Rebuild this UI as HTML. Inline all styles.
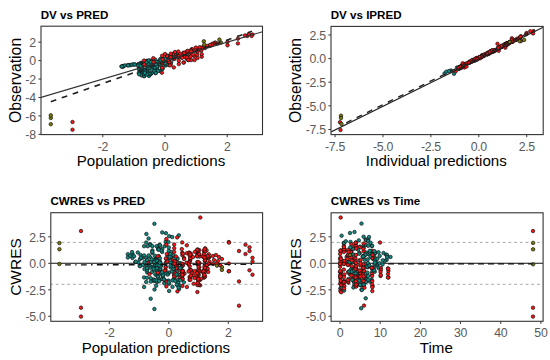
<!DOCTYPE html>
<html><head><meta charset="utf-8"><style>
html,body{margin:0;padding:0;background:#fff;}
svg{display:block;}
.tk{font-family:"Liberation Sans",sans-serif;font-size:12.3px;letter-spacing:-0.3px;fill:#5a5a5a;}
.ax{font-family:"Liberation Sans",sans-serif;font-size:15.1px;fill:#000;}
.ay{font-family:"Liberation Sans",sans-serif;font-size:15.8px;fill:#000;}
.ti{font-family:"Liberation Sans",sans-serif;font-size:11.6px;font-weight:bold;fill:#000;}
</style></head><body>
<svg width="550" height="360" viewBox="0 0 550 360">
<rect width="550" height="360" fill="#fff"/>
<defs>
<clipPath id="cA"><rect x="41" y="26.2" width="221.50" height="108.40"/></clipPath>
<clipPath id="cB"><rect x="331" y="26.4" width="212.20" height="108.20"/></clipPath>
<clipPath id="cC"><rect x="50.8" y="212.7" width="211.80" height="108.60"/></clipPath>
<clipPath id="cD"><rect x="331.1" y="212.8" width="212.00" height="108.50"/></clipPath>
</defs>
<g clip-path="url(#cA)">
<g stroke="#111" stroke-width="0.7">
<circle cx="165.9" cy="65.4" r="1.75" fill="#0f8a84"/>
<circle cx="138.0" cy="64.3" r="1.75" fill="#0f8a84"/>
<circle cx="140.9" cy="62.9" r="1.75" fill="#0f8a84"/>
<circle cx="140.3" cy="74.3" r="1.75" fill="#0f8a84"/>
<circle cx="143.7" cy="73.7" r="1.75" fill="#0f8a84"/>
<circle cx="159.5" cy="61.3" r="1.75" fill="#0f8a84"/>
<circle cx="144.1" cy="76.1" r="1.75" fill="#0f8a84"/>
<circle cx="146.5" cy="60.9" r="1.75" fill="#0f8a84"/>
<circle cx="159.8" cy="70.9" r="1.75" fill="#0f8a84"/>
<circle cx="147.8" cy="71.8" r="1.75" fill="#0f8a84"/>
<circle cx="162.1" cy="58.8" r="1.75" fill="#0f8a84"/>
<circle cx="123.0" cy="66.4" r="1.75" fill="#0f8a84"/>
<circle cx="141.4" cy="68.9" r="1.75" fill="#0f8a84"/>
<circle cx="150.2" cy="60.9" r="1.75" fill="#0f8a84"/>
<circle cx="155.5" cy="73.0" r="1.75" fill="#0f8a84"/>
<circle cx="157.5" cy="70.0" r="1.75" fill="#0f8a84"/>
<circle cx="129.5" cy="65.1" r="1.75" fill="#0f8a84"/>
<circle cx="139.7" cy="70.4" r="1.75" fill="#0f8a84"/>
<circle cx="149.4" cy="60.8" r="1.75" fill="#0f8a84"/>
<circle cx="153.7" cy="61.4" r="1.75" fill="#0f8a84"/>
<circle cx="141.5" cy="72.9" r="1.75" fill="#0f8a84"/>
<circle cx="150.6" cy="74.0" r="1.75" fill="#0f8a84"/>
<circle cx="141.6" cy="75.4" r="1.75" fill="#0f8a84"/>
<circle cx="151.7" cy="73.2" r="1.75" fill="#0f8a84"/>
<circle cx="123.3" cy="65.9" r="1.75" fill="#0f8a84"/>
<circle cx="160.3" cy="59.0" r="1.75" fill="#0f8a84"/>
<circle cx="142.8" cy="71.4" r="1.75" fill="#0f8a84"/>
<circle cx="141.6" cy="63.0" r="1.75" fill="#0f8a84"/>
<circle cx="142.9" cy="63.5" r="1.75" fill="#0f8a84"/>
<circle cx="150.0" cy="64.5" r="1.75" fill="#0f8a84"/>
<circle cx="168.8" cy="56.2" r="1.75" fill="#0f8a84"/>
<circle cx="148.9" cy="75.9" r="1.75" fill="#0f8a84"/>
<circle cx="146.2" cy="72.0" r="1.75" fill="#0f8a84"/>
<circle cx="150.2" cy="63.6" r="1.75" fill="#0f8a84"/>
<circle cx="145.4" cy="64.2" r="1.75" fill="#0f8a84"/>
<circle cx="153.1" cy="62.7" r="1.75" fill="#0f8a84"/>
<circle cx="141.0" cy="69.6" r="1.75" fill="#0f8a84"/>
<circle cx="147.3" cy="71.8" r="1.75" fill="#0f8a84"/>
<circle cx="178.2" cy="57.2" r="1.75" fill="#0f8a84"/>
<circle cx="133.2" cy="64.5" r="1.75" fill="#0f8a84"/>
<circle cx="156.9" cy="63.3" r="1.75" fill="#0f8a84"/>
<circle cx="139.2" cy="66.8" r="1.75" fill="#0f8a84"/>
<circle cx="145.8" cy="70.1" r="1.75" fill="#0f8a84"/>
<circle cx="130.3" cy="65.1" r="1.75" fill="#0f8a84"/>
<circle cx="147.7" cy="60.8" r="1.75" fill="#0f8a84"/>
<circle cx="145.1" cy="70.1" r="1.75" fill="#0f8a84"/>
<circle cx="121.5" cy="66.4" r="1.75" fill="#0f8a84"/>
<circle cx="155.4" cy="59.7" r="1.75" fill="#0f8a84"/>
<circle cx="122.8" cy="66.7" r="1.75" fill="#0f8a84"/>
<circle cx="151.0" cy="60.9" r="1.75" fill="#0f8a84"/>
<circle cx="153.3" cy="66.7" r="1.75" fill="#0f8a84"/>
<circle cx="168.7" cy="58.5" r="1.75" fill="#0f8a84"/>
<circle cx="138.6" cy="66.6" r="1.75" fill="#0f8a84"/>
<circle cx="154.7" cy="65.2" r="1.75" fill="#0f8a84"/>
<circle cx="144.1" cy="76.1" r="1.75" fill="#0f8a84"/>
<circle cx="154.0" cy="62.1" r="1.75" fill="#0f8a84"/>
<circle cx="148.1" cy="68.0" r="1.75" fill="#0f8a84"/>
<circle cx="167.7" cy="57.8" r="1.75" fill="#0f8a84"/>
<circle cx="157.6" cy="63.0" r="1.75" fill="#0f8a84"/>
<circle cx="138.8" cy="72.9" r="1.75" fill="#0f8a84"/>
<circle cx="156.4" cy="68.3" r="1.75" fill="#0f8a84"/>
<circle cx="144.0" cy="74.1" r="1.75" fill="#0f8a84"/>
<circle cx="157.5" cy="66.6" r="1.75" fill="#0f8a84"/>
<circle cx="164.0" cy="58.6" r="1.75" fill="#0f8a84"/>
<circle cx="146.7" cy="61.4" r="1.75" fill="#0f8a84"/>
<circle cx="171.1" cy="62.4" r="1.75" fill="#0f8a84"/>
<circle cx="148.6" cy="64.2" r="1.75" fill="#0f8a84"/>
<circle cx="156.5" cy="68.6" r="1.75" fill="#0f8a84"/>
<circle cx="173.7" cy="59.1" r="1.75" fill="#0f8a84"/>
<circle cx="143.6" cy="69.7" r="1.75" fill="#0f8a84"/>
<circle cx="147.3" cy="61.3" r="1.75" fill="#0f8a84"/>
<circle cx="172.0" cy="56.4" r="1.75" fill="#0f8a84"/>
<circle cx="152.9" cy="69.3" r="1.75" fill="#0f8a84"/>
<circle cx="173.6" cy="53.7" r="1.75" fill="#0f8a84"/>
<circle cx="176.2" cy="54.8" r="1.75" fill="#0f8a84"/>
<circle cx="145.5" cy="65.6" r="1.75" fill="#0f8a84"/>
<circle cx="139.7" cy="68.6" r="1.75" fill="#0f8a84"/>
<circle cx="143.0" cy="64.2" r="1.75" fill="#0f8a84"/>
<circle cx="165.6" cy="58.8" r="1.75" fill="#0f8a84"/>
<circle cx="141.7" cy="67.3" r="1.75" fill="#0f8a84"/>
<circle cx="158.0" cy="61.9" r="1.75" fill="#0f8a84"/>
<circle cx="139.9" cy="64.3" r="1.75" fill="#0f8a84"/>
<circle cx="132.2" cy="64.6" r="1.75" fill="#0f8a84"/>
<circle cx="139.1" cy="63.9" r="1.75" fill="#0f8a84"/>
<circle cx="160.8" cy="60.6" r="1.75" fill="#0f8a84"/>
<circle cx="162.8" cy="68.1" r="1.75" fill="#0f8a84"/>
<circle cx="150.2" cy="74.4" r="1.75" fill="#0f8a84"/>
<circle cx="173.2" cy="55.4" r="1.75" fill="#0f8a84"/>
<circle cx="162.2" cy="69.2" r="1.75" fill="#0f8a84"/>
<circle cx="150.1" cy="73.9" r="1.75" fill="#0f8a84"/>
<circle cx="148.1" cy="68.5" r="1.75" fill="#0f8a84"/>
<circle cx="167.3" cy="55.8" r="1.75" fill="#0f8a84"/>
<circle cx="146.2" cy="62.2" r="1.75" fill="#0f8a84"/>
<circle cx="166.2" cy="58.7" r="1.75" fill="#0f8a84"/>
<circle cx="125.2" cy="65.4" r="1.75" fill="#0f8a84"/>
<circle cx="142.2" cy="63.8" r="1.75" fill="#0f8a84"/>
<circle cx="152.4" cy="67.8" r="1.75" fill="#0f8a84"/>
<circle cx="139.1" cy="69.3" r="1.75" fill="#0f8a84"/>
<circle cx="154.7" cy="67.8" r="1.75" fill="#0f8a84"/>
<circle cx="175.2" cy="54.1" r="1.75" fill="#0f8a84"/>
<circle cx="167.1" cy="62.8" r="1.75" fill="#0f8a84"/>
<circle cx="148.4" cy="73.8" r="1.75" fill="#0f8a84"/>
<circle cx="143.4" cy="63.6" r="1.75" fill="#0f8a84"/>
<circle cx="149.7" cy="67.9" r="1.75" fill="#0f8a84"/>
<circle cx="141.3" cy="69.8" r="1.75" fill="#0f8a84"/>
<circle cx="169.3" cy="63.8" r="1.75" fill="#0f8a84"/>
<circle cx="139.2" cy="65.8" r="1.75" fill="#0f8a84"/>
<circle cx="121.8" cy="66.5" r="1.75" fill="#0f8a84"/>
<circle cx="156.5" cy="65.1" r="1.75" fill="#0f8a84"/>
<circle cx="166.1" cy="61.8" r="1.75" fill="#0f8a84"/>
<circle cx="141.6" cy="65.0" r="1.75" fill="#0f8a84"/>
<circle cx="141.2" cy="66.9" r="1.75" fill="#0f8a84"/>
<circle cx="168.2" cy="63.3" r="1.75" fill="#0f8a84"/>
<circle cx="151.7" cy="70.0" r="1.75" fill="#0f8a84"/>
<circle cx="167.9" cy="59.0" r="1.75" fill="#0f8a84"/>
<circle cx="146.6" cy="71.7" r="1.75" fill="#0f8a84"/>
<circle cx="134.7" cy="64.4" r="1.75" fill="#0f8a84"/>
<circle cx="165.0" cy="63.8" r="1.75" fill="#0f8a84"/>
<circle cx="154.4" cy="71.0" r="1.75" fill="#0f8a84"/>
<circle cx="158.1" cy="70.8" r="1.75" fill="#0f8a84"/>
<circle cx="127.8" cy="65.2" r="1.75" fill="#0f8a84"/>
<circle cx="156.4" cy="62.0" r="1.75" fill="#0f8a84"/>
<circle cx="155.1" cy="67.5" r="1.75" fill="#0f8a84"/>
<circle cx="138.3" cy="65.5" r="1.75" fill="#0f8a84"/>
<circle cx="139.1" cy="74.2" r="1.75" fill="#0f8a84"/>
<circle cx="141.0" cy="65.5" r="1.75" fill="#0f8a84"/>
<circle cx="134.6" cy="64.5" r="1.75" fill="#0f8a84"/>
<circle cx="151.3" cy="63.7" r="1.75" fill="#0f8a84"/>
<circle cx="148.9" cy="60.6" r="1.75" fill="#0f8a84"/>
<circle cx="141.8" cy="69.2" r="1.75" fill="#0f8a84"/>
<circle cx="146.8" cy="74.5" r="1.75" fill="#0f8a84"/>
<circle cx="168.3" cy="64.8" r="1.75" fill="#0f8a84"/>
<circle cx="141.2" cy="66.5" r="1.75" fill="#0f8a84"/>
<circle cx="161.2" cy="65.8" r="1.75" fill="#0f8a84"/>
<circle cx="155.8" cy="73.0" r="1.75" fill="#0f8a84"/>
<circle cx="161.5" cy="64.6" r="1.75" fill="#0f8a84"/>
<circle cx="167.5" cy="58.1" r="1.75" fill="#0f8a84"/>
<circle cx="157.0" cy="66.4" r="1.75" fill="#0f8a84"/>
<circle cx="155.9" cy="64.3" r="1.75" fill="#0f8a84"/>
<circle cx="128.1" cy="65.4" r="1.75" fill="#0f8a84"/>
<circle cx="150.8" cy="62.1" r="1.75" fill="#0f8a84"/>
<circle cx="140.6" cy="66.0" r="1.75" fill="#0f8a84"/>
<circle cx="165.4" cy="58.8" r="1.75" fill="#0f8a84"/>
<circle cx="145.0" cy="71.6" r="1.75" fill="#0f8a84"/>
<circle cx="165.4" cy="63.2" r="1.75" fill="#0f8a84"/>
<circle cx="144.9" cy="72.9" r="1.75" fill="#0f8a84"/>
<circle cx="168.8" cy="60.7" r="1.75" fill="#0f8a84"/>
<circle cx="143.7" cy="64.9" r="1.75" fill="#0f8a84"/>
<circle cx="192.0" cy="49.0" r="1.75" fill="#ff1414"/>
<circle cx="180.0" cy="54.0" r="1.75" fill="#ff1414"/>
<circle cx="227.5" cy="42.0" r="1.75" fill="#ff1414"/>
<circle cx="215.2" cy="42.5" r="1.75" fill="#ff1414"/>
<circle cx="184.4" cy="53.4" r="1.75" fill="#ff1414"/>
<circle cx="201.4" cy="49.6" r="1.75" fill="#ff1414"/>
<circle cx="213.8" cy="43.4" r="1.75" fill="#ff1414"/>
<circle cx="183.3" cy="52.8" r="1.75" fill="#ff1414"/>
<circle cx="177.9" cy="56.2" r="1.75" fill="#ff1414"/>
<circle cx="187.5" cy="51.2" r="1.75" fill="#ff1414"/>
<circle cx="162.1" cy="55.8" r="1.75" fill="#ff1414"/>
<circle cx="189.6" cy="53.7" r="1.75" fill="#ff1414"/>
<circle cx="72.5" cy="122.0" r="1.75" fill="#ff1414"/>
<circle cx="205.0" cy="48.0" r="1.75" fill="#ff1414"/>
<circle cx="202.9" cy="47.2" r="1.75" fill="#ff1414"/>
<circle cx="201.1" cy="49.3" r="1.75" fill="#ff1414"/>
<circle cx="178.8" cy="64.1" r="1.75" fill="#ff1414"/>
<circle cx="212.4" cy="43.9" r="1.75" fill="#ff1414"/>
<circle cx="197.5" cy="58.0" r="1.75" fill="#ff1414"/>
<circle cx="185.0" cy="54.0" r="1.75" fill="#ff1414"/>
<circle cx="237.9" cy="38.7" r="1.75" fill="#ff1414"/>
<circle cx="153.3" cy="58.2" r="1.75" fill="#ff1414"/>
<circle cx="201.6" cy="47.9" r="1.75" fill="#ff1414"/>
<circle cx="161.9" cy="72.7" r="1.75" fill="#ff1414"/>
<circle cx="184.7" cy="54.5" r="1.75" fill="#ff1414"/>
<circle cx="198.1" cy="48.7" r="1.75" fill="#ff1414"/>
<circle cx="144.3" cy="64.4" r="1.75" fill="#ff1414"/>
<circle cx="188.3" cy="60.1" r="1.75" fill="#ff1414"/>
<circle cx="191.0" cy="50.1" r="1.75" fill="#ff1414"/>
<circle cx="211.7" cy="44.7" r="1.75" fill="#ff1414"/>
<circle cx="194.6" cy="60.1" r="1.75" fill="#ff1414"/>
<circle cx="194.2" cy="55.9" r="1.75" fill="#ff1414"/>
<circle cx="168.5" cy="62.3" r="1.75" fill="#ff1414"/>
<circle cx="182.1" cy="57.4" r="1.75" fill="#ff1414"/>
<circle cx="173.3" cy="54.1" r="1.75" fill="#ff1414"/>
<circle cx="185.0" cy="57.2" r="1.75" fill="#ff1414"/>
<circle cx="162.5" cy="59.5" r="1.75" fill="#ff1414"/>
<circle cx="153.5" cy="62.0" r="1.75" fill="#ff1414"/>
<circle cx="170.8" cy="64.5" r="1.75" fill="#ff1414"/>
<circle cx="191.0" cy="51.6" r="1.75" fill="#ff1414"/>
<circle cx="187.5" cy="56.8" r="1.75" fill="#ff1414"/>
<circle cx="191.2" cy="60.1" r="1.75" fill="#ff1414"/>
<circle cx="185.9" cy="52.2" r="1.75" fill="#ff1414"/>
<circle cx="252.5" cy="34.5" r="1.75" fill="#ff1414"/>
<circle cx="178.8" cy="60.8" r="1.75" fill="#ff1414"/>
<circle cx="201.7" cy="56.8" r="1.75" fill="#ff1414"/>
<circle cx="183.8" cy="62.4" r="1.75" fill="#ff1414"/>
<circle cx="247.3" cy="35.9" r="1.75" fill="#ff1414"/>
<circle cx="178.8" cy="56.2" r="1.75" fill="#ff1414"/>
<circle cx="184.3" cy="52.9" r="1.75" fill="#ff1414"/>
<circle cx="191.2" cy="51.3" r="1.75" fill="#ff1414"/>
<circle cx="162.1" cy="63.2" r="1.75" fill="#ff1414"/>
<circle cx="210.0" cy="45.9" r="1.75" fill="#ff1414"/>
<circle cx="200.0" cy="49.6" r="1.75" fill="#ff1414"/>
<circle cx="251.6" cy="35.9" r="1.75" fill="#ff1414"/>
<circle cx="197.1" cy="54.7" r="1.75" fill="#ff1414"/>
<circle cx="187.5" cy="50.9" r="1.75" fill="#ff1414"/>
<circle cx="201.2" cy="50.5" r="1.75" fill="#ff1414"/>
<circle cx="193.3" cy="54.7" r="1.75" fill="#ff1414"/>
<circle cx="173.8" cy="67.4" r="1.75" fill="#ff1414"/>
<circle cx="144.0" cy="60.6" r="1.75" fill="#ff1414"/>
<circle cx="170.8" cy="57.4" r="1.75" fill="#ff1414"/>
<circle cx="170.8" cy="53.7" r="1.75" fill="#ff1414"/>
<circle cx="187.1" cy="59.2" r="1.75" fill="#ff1414"/>
<circle cx="175.0" cy="52.0" r="1.75" fill="#ff1414"/>
<circle cx="245.0" cy="35.4" r="1.75" fill="#ff1414"/>
<circle cx="174.6" cy="58.7" r="1.75" fill="#ff1414"/>
<circle cx="199.6" cy="47.2" r="1.75" fill="#ff1414"/>
<circle cx="237.9" cy="43.4" r="1.75" fill="#ff1414"/>
<circle cx="72.5" cy="129.7" r="1.75" fill="#ff1414"/>
<circle cx="190.4" cy="56.8" r="1.75" fill="#ff1414"/>
<circle cx="169.9" cy="65.4" r="1.75" fill="#ff1414"/>
<circle cx="169.2" cy="62.0" r="1.75" fill="#ff1414"/>
<circle cx="195.8" cy="47.6" r="1.75" fill="#ff1414"/>
<circle cx="201.7" cy="54.2" r="1.75" fill="#ff1414"/>
<circle cx="227.5" cy="45.3" r="1.75" fill="#ff1414"/>
<circle cx="162.1" cy="67.8" r="1.75" fill="#ff1414"/>
<circle cx="248.8" cy="34.0" r="1.75" fill="#ff1414"/>
<circle cx="210.0" cy="44.9" r="1.75" fill="#ff1414"/>
<circle cx="168.3" cy="59.9" r="1.75" fill="#ff1414"/>
<circle cx="183.5" cy="62.6" r="1.75" fill="#ff1414"/>
<circle cx="217.6" cy="43.4" r="1.75" fill="#ff1414"/>
<circle cx="167.0" cy="56.0" r="1.75" fill="#ff1414"/>
<circle cx="197.0" cy="51.1" r="1.75" fill="#ff1414"/>
<circle cx="207.1" cy="45.9" r="1.75" fill="#ff1414"/>
<circle cx="197.5" cy="51.8" r="1.75" fill="#ff1414"/>
<circle cx="178.3" cy="51.6" r="1.75" fill="#ff1414"/>
<circle cx="165.0" cy="54.0" r="1.75" fill="#ff1414"/>
<circle cx="187.1" cy="57.4" r="1.75" fill="#ff1414"/>
<circle cx="195.4" cy="50.6" r="1.75" fill="#ff1414"/>
<circle cx="188.3" cy="59.9" r="1.75" fill="#ff1414"/>
<circle cx="182.1" cy="57.8" r="1.75" fill="#ff1414"/>
<circle cx="220.9" cy="42.5" r="1.75" fill="#7a7c08"/>
<circle cx="203.8" cy="41.3" r="1.75" fill="#7a7c08"/>
<circle cx="219.4" cy="39.6" r="1.75" fill="#7a7c08"/>
<circle cx="50.8" cy="118.0" r="1.75" fill="#7a7c08"/>
<circle cx="50.8" cy="124.2" r="1.75" fill="#7a7c08"/>
<circle cx="204.2" cy="44.7" r="1.75" fill="#7a7c08"/>
<circle cx="50.8" cy="115.3" r="1.75" fill="#7a7c08"/>
</g>
<line x1="41" y1="97.39" x2="262.5" y2="31.74" stroke="#333" stroke-width="1.1"/>
<line x1="50.8" y1="101.7" x2="252" y2="31.3" stroke="#222" stroke-width="1.6" stroke-dasharray="5.8 5.8"/>
</g>
<g clip-path="url(#cB)">
<g stroke="#111" stroke-width="0.7">
<circle cx="444.6" cy="73.4" r="1.75" fill="#0f8a84"/>
<circle cx="481.9" cy="55.3" r="1.75" fill="#0f8a84"/>
<circle cx="446.3" cy="71.7" r="1.75" fill="#0f8a84"/>
<circle cx="462.5" cy="65.8" r="1.75" fill="#0f8a84"/>
<circle cx="474.8" cy="60.7" r="1.75" fill="#0f8a84"/>
<circle cx="466.9" cy="63.5" r="1.75" fill="#0f8a84"/>
<circle cx="451.0" cy="70.5" r="1.75" fill="#0f8a84"/>
<circle cx="505.3" cy="44.3" r="1.75" fill="#0f8a84"/>
<circle cx="471.1" cy="61.5" r="1.75" fill="#0f8a84"/>
<circle cx="471.3" cy="61.5" r="1.75" fill="#0f8a84"/>
<circle cx="504.9" cy="44.3" r="1.75" fill="#0f8a84"/>
<circle cx="460.4" cy="67.0" r="1.75" fill="#0f8a84"/>
<circle cx="468.8" cy="62.5" r="1.75" fill="#0f8a84"/>
<circle cx="472.5" cy="60.4" r="1.75" fill="#0f8a84"/>
<circle cx="460.2" cy="67.1" r="1.75" fill="#0f8a84"/>
<circle cx="459.0" cy="69.0" r="1.75" fill="#0f8a84"/>
<circle cx="498.6" cy="47.9" r="1.75" fill="#0f8a84"/>
<circle cx="474.7" cy="60.1" r="1.75" fill="#0f8a84"/>
<circle cx="490.2" cy="51.5" r="1.75" fill="#0f8a84"/>
<circle cx="462.1" cy="66.3" r="1.75" fill="#0f8a84"/>
<circle cx="487.0" cy="53.5" r="1.75" fill="#0f8a84"/>
<circle cx="459.6" cy="67.4" r="1.75" fill="#0f8a84"/>
<circle cx="449.0" cy="71.0" r="1.75" fill="#0f8a84"/>
<circle cx="495.6" cy="50.0" r="1.75" fill="#0f8a84"/>
<circle cx="506.7" cy="43.5" r="1.75" fill="#0f8a84"/>
<circle cx="460.5" cy="67.0" r="1.75" fill="#0f8a84"/>
<circle cx="457.0" cy="67.5" r="1.75" fill="#0f8a84"/>
<circle cx="511.3" cy="41.6" r="1.75" fill="#0f8a84"/>
<circle cx="463.9" cy="65.1" r="1.75" fill="#0f8a84"/>
<circle cx="454.0" cy="73.8" r="1.75" fill="#0f8a84"/>
<circle cx="463.8" cy="64.8" r="1.75" fill="#0f8a84"/>
<circle cx="498.1" cy="48.8" r="1.75" fill="#0f8a84"/>
<circle cx="461.0" cy="68.0" r="1.75" fill="#0f8a84"/>
<circle cx="462.4" cy="65.5" r="1.75" fill="#0f8a84"/>
<circle cx="466.6" cy="64.0" r="1.75" fill="#0f8a84"/>
<circle cx="472.2" cy="61.2" r="1.75" fill="#0f8a84"/>
<circle cx="488.5" cy="52.3" r="1.75" fill="#0f8a84"/>
<circle cx="471.4" cy="61.6" r="1.75" fill="#0f8a84"/>
<circle cx="464.1" cy="65.6" r="1.75" fill="#0f8a84"/>
<circle cx="487.5" cy="53.4" r="1.75" fill="#ff1414"/>
<circle cx="489.4" cy="52.5" r="1.75" fill="#ff1414"/>
<circle cx="482.9" cy="55.2" r="1.75" fill="#ff1414"/>
<circle cx="504.7" cy="44.6" r="1.75" fill="#ff1414"/>
<circle cx="472.4" cy="60.1" r="1.75" fill="#ff1414"/>
<circle cx="477.0" cy="59.2" r="1.75" fill="#ff1414"/>
<circle cx="509.0" cy="42.6" r="1.75" fill="#ff1414"/>
<circle cx="500.7" cy="46.5" r="1.75" fill="#ff1414"/>
<circle cx="469.9" cy="62.3" r="1.75" fill="#ff1414"/>
<circle cx="469.5" cy="62.7" r="1.75" fill="#ff1414"/>
<circle cx="505.2" cy="44.8" r="1.75" fill="#ff1414"/>
<circle cx="484.0" cy="56.0" r="1.75" fill="#ff1414"/>
<circle cx="492.0" cy="51.1" r="1.75" fill="#ff1414"/>
<circle cx="459.9" cy="67.3" r="1.75" fill="#ff1414"/>
<circle cx="506.8" cy="43.1" r="1.75" fill="#ff1414"/>
<circle cx="463.9" cy="64.6" r="1.75" fill="#ff1414"/>
<circle cx="469.3" cy="61.7" r="1.75" fill="#ff1414"/>
<circle cx="498.7" cy="50.8" r="1.75" fill="#ff1414"/>
<circle cx="493.0" cy="51.8" r="1.75" fill="#ff1414"/>
<circle cx="519.4" cy="37.9" r="1.75" fill="#ff1414"/>
<circle cx="482.4" cy="56.0" r="1.75" fill="#ff1414"/>
<circle cx="488.8" cy="52.6" r="1.75" fill="#ff1414"/>
<circle cx="479.3" cy="57.7" r="1.75" fill="#ff1414"/>
<circle cx="509.0" cy="43.0" r="1.75" fill="#ff1414"/>
<circle cx="520.9" cy="41.1" r="1.75" fill="#ff1414"/>
<circle cx="487.9" cy="53.9" r="1.75" fill="#ff1414"/>
<circle cx="475.6" cy="58.7" r="1.75" fill="#ff1414"/>
<circle cx="481.1" cy="56.5" r="1.75" fill="#ff1414"/>
<circle cx="516.6" cy="39.4" r="1.75" fill="#ff1414"/>
<circle cx="505.0" cy="45.1" r="1.75" fill="#ff1414"/>
<circle cx="464.2" cy="64.6" r="1.75" fill="#ff1414"/>
<circle cx="476.0" cy="59.6" r="1.75" fill="#ff1414"/>
<circle cx="482.2" cy="56.0" r="1.75" fill="#ff1414"/>
<circle cx="459.8" cy="66.9" r="1.75" fill="#ff1414"/>
<circle cx="504.6" cy="44.9" r="1.75" fill="#ff1414"/>
<circle cx="501.5" cy="46.7" r="1.75" fill="#ff1414"/>
<circle cx="490.5" cy="52.8" r="1.75" fill="#ff1414"/>
<circle cx="509.2" cy="42.7" r="1.75" fill="#ff1414"/>
<circle cx="508.4" cy="43.1" r="1.75" fill="#ff1414"/>
<circle cx="462.3" cy="66.4" r="1.75" fill="#ff1414"/>
<circle cx="486.3" cy="53.9" r="1.75" fill="#ff1414"/>
<circle cx="507.6" cy="43.2" r="1.75" fill="#ff1414"/>
<circle cx="494.8" cy="51.0" r="1.75" fill="#ff1414"/>
<circle cx="489.3" cy="53.4" r="1.75" fill="#ff1414"/>
<circle cx="506.0" cy="43.8" r="1.75" fill="#ff1414"/>
<circle cx="507.8" cy="43.9" r="1.75" fill="#ff1414"/>
<circle cx="526.6" cy="33.0" r="1.75" fill="#ff1414"/>
<circle cx="491.9" cy="51.1" r="1.75" fill="#ff1414"/>
<circle cx="491.6" cy="51.6" r="1.75" fill="#ff1414"/>
<circle cx="499.1" cy="47.9" r="1.75" fill="#ff1414"/>
<circle cx="511.9" cy="41.9" r="1.75" fill="#ff1414"/>
<circle cx="477.5" cy="59.2" r="1.75" fill="#ff1414"/>
<circle cx="498.3" cy="47.9" r="1.75" fill="#ff1414"/>
<circle cx="465.3" cy="64.5" r="1.75" fill="#ff1414"/>
<circle cx="489.7" cy="52.5" r="1.75" fill="#ff1414"/>
<circle cx="504.7" cy="45.1" r="1.75" fill="#ff1414"/>
<circle cx="487.1" cy="54.6" r="1.75" fill="#ff1414"/>
<circle cx="506.9" cy="44.0" r="1.75" fill="#ff1414"/>
<circle cx="507.5" cy="44.4" r="1.75" fill="#ff1414"/>
<circle cx="487.3" cy="54.2" r="1.75" fill="#ff1414"/>
<circle cx="533.1" cy="31.3" r="1.75" fill="#ff1414"/>
<circle cx="464.4" cy="67.5" r="1.75" fill="#ff1414"/>
<circle cx="501.6" cy="46.6" r="1.75" fill="#ff1414"/>
<circle cx="516.0" cy="39.9" r="1.75" fill="#ff1414"/>
<circle cx="462.0" cy="66.0" r="1.75" fill="#ff1414"/>
<circle cx="464.3" cy="65.0" r="1.75" fill="#ff1414"/>
<circle cx="520.5" cy="36.9" r="1.75" fill="#ff1414"/>
<circle cx="530.3" cy="31.3" r="1.75" fill="#ff1414"/>
<circle cx="473.6" cy="60.6" r="1.75" fill="#ff1414"/>
<circle cx="515.1" cy="40.2" r="1.75" fill="#ff1414"/>
<circle cx="460.4" cy="66.8" r="1.75" fill="#ff1414"/>
<circle cx="485.2" cy="54.0" r="1.75" fill="#ff1414"/>
<circle cx="490.8" cy="51.9" r="1.75" fill="#ff1414"/>
<circle cx="340.0" cy="122.2" r="1.75" fill="#ff1414"/>
<circle cx="498.1" cy="47.7" r="1.75" fill="#ff1414"/>
<circle cx="458.7" cy="67.7" r="1.75" fill="#ff1414"/>
<circle cx="490.5" cy="52.1" r="1.75" fill="#ff1414"/>
<circle cx="504.1" cy="44.7" r="1.75" fill="#ff1414"/>
<circle cx="511.9" cy="38.3" r="1.75" fill="#ff1414"/>
<circle cx="472.7" cy="60.8" r="1.75" fill="#ff1414"/>
<circle cx="506.9" cy="44.5" r="1.75" fill="#ff1414"/>
<circle cx="476.8" cy="58.2" r="1.75" fill="#ff1414"/>
<circle cx="487.8" cy="53.9" r="1.75" fill="#ff1414"/>
<circle cx="511.8" cy="41.7" r="1.75" fill="#ff1414"/>
<circle cx="490.9" cy="51.4" r="1.75" fill="#ff1414"/>
<circle cx="470.4" cy="61.5" r="1.75" fill="#ff1414"/>
<circle cx="472.2" cy="61.4" r="1.75" fill="#ff1414"/>
<circle cx="492.2" cy="51.0" r="1.75" fill="#ff1414"/>
<circle cx="464.6" cy="65.0" r="1.75" fill="#ff1414"/>
<circle cx="491.8" cy="50.9" r="1.75" fill="#ff1414"/>
<circle cx="465.2" cy="63.9" r="1.75" fill="#ff1414"/>
<circle cx="459.2" cy="67.9" r="1.75" fill="#ff1414"/>
<circle cx="512.4" cy="41.6" r="1.75" fill="#ff1414"/>
<circle cx="505.4" cy="44.6" r="1.75" fill="#ff1414"/>
<circle cx="482.2" cy="56.0" r="1.75" fill="#ff1414"/>
<circle cx="493.8" cy="51.0" r="1.75" fill="#ff1414"/>
<circle cx="501.2" cy="47.2" r="1.75" fill="#ff1414"/>
<circle cx="489.5" cy="52.9" r="1.75" fill="#ff1414"/>
<circle cx="510.7" cy="41.6" r="1.75" fill="#ff1414"/>
<circle cx="520.0" cy="37.4" r="1.75" fill="#ff1414"/>
<circle cx="489.9" cy="51.9" r="1.75" fill="#ff1414"/>
<circle cx="488.7" cy="53.5" r="1.75" fill="#ff1414"/>
<circle cx="482.5" cy="55.5" r="1.75" fill="#ff1414"/>
<circle cx="508.8" cy="42.7" r="1.75" fill="#ff1414"/>
<circle cx="511.9" cy="39.9" r="1.75" fill="#ff1414"/>
<circle cx="479.1" cy="57.6" r="1.75" fill="#ff1414"/>
<circle cx="481.5" cy="57.3" r="1.75" fill="#ff1414"/>
<circle cx="480.0" cy="58.3" r="1.75" fill="#ff1414"/>
<circle cx="494.2" cy="50.2" r="1.75" fill="#ff1414"/>
<circle cx="501.8" cy="46.4" r="1.75" fill="#ff1414"/>
<circle cx="492.6" cy="51.5" r="1.75" fill="#ff1414"/>
<circle cx="491.5" cy="51.5" r="1.75" fill="#ff1414"/>
<circle cx="459.0" cy="67.8" r="1.75" fill="#ff1414"/>
<circle cx="491.7" cy="50.7" r="1.75" fill="#ff1414"/>
<circle cx="464.7" cy="65.1" r="1.75" fill="#ff1414"/>
<circle cx="520.9" cy="36.2" r="1.75" fill="#ff1414"/>
<circle cx="497.5" cy="43.8" r="1.75" fill="#ff1414"/>
<circle cx="461.7" cy="67.2" r="1.75" fill="#ff1414"/>
<circle cx="474.5" cy="60.1" r="1.75" fill="#ff1414"/>
<circle cx="517.2" cy="38.7" r="1.75" fill="#ff1414"/>
<circle cx="500.5" cy="47.3" r="1.75" fill="#ff1414"/>
<circle cx="487.8" cy="53.5" r="1.75" fill="#ff1414"/>
<circle cx="477.4" cy="58.4" r="1.75" fill="#ff1414"/>
<circle cx="479.0" cy="57.4" r="1.75" fill="#ff1414"/>
<circle cx="512.8" cy="41.7" r="1.75" fill="#ff1414"/>
<circle cx="468.9" cy="62.8" r="1.75" fill="#ff1414"/>
<circle cx="476.9" cy="58.6" r="1.75" fill="#ff1414"/>
<circle cx="466.6" cy="63.7" r="1.75" fill="#ff1414"/>
<circle cx="483.5" cy="55.3" r="1.75" fill="#ff1414"/>
<circle cx="461.3" cy="65.9" r="1.75" fill="#ff1414"/>
<circle cx="490.1" cy="51.8" r="1.75" fill="#ff1414"/>
<circle cx="464.8" cy="64.8" r="1.75" fill="#ff1414"/>
<circle cx="505.7" cy="45.6" r="1.75" fill="#ff1414"/>
<circle cx="481.6" cy="56.4" r="1.75" fill="#ff1414"/>
<circle cx="498.7" cy="48.6" r="1.75" fill="#ff1414"/>
<circle cx="488.7" cy="53.0" r="1.75" fill="#ff1414"/>
<circle cx="492.4" cy="50.7" r="1.75" fill="#ff1414"/>
<circle cx="501.1" cy="46.3" r="1.75" fill="#ff1414"/>
<circle cx="455.7" cy="71.3" r="1.75" fill="#ff1414"/>
<circle cx="483.8" cy="55.4" r="1.75" fill="#ff1414"/>
<circle cx="483.9" cy="54.8" r="1.75" fill="#ff1414"/>
<circle cx="481.6" cy="56.8" r="1.75" fill="#ff1414"/>
<circle cx="462.7" cy="63.3" r="1.75" fill="#ff1414"/>
<circle cx="479.4" cy="57.2" r="1.75" fill="#ff1414"/>
<circle cx="507.4" cy="44.4" r="1.75" fill="#ff1414"/>
<circle cx="501.2" cy="46.3" r="1.75" fill="#ff1414"/>
<circle cx="505.3" cy="47.7" r="1.75" fill="#ff1414"/>
<circle cx="458.4" cy="68.4" r="1.75" fill="#ff1414"/>
<circle cx="469.0" cy="62.8" r="1.75" fill="#ff1414"/>
<circle cx="463.3" cy="65.8" r="1.75" fill="#ff1414"/>
<circle cx="509.7" cy="43.0" r="1.75" fill="#ff1414"/>
<circle cx="463.1" cy="65.6" r="1.75" fill="#ff1414"/>
<circle cx="500.4" cy="46.9" r="1.75" fill="#ff1414"/>
<circle cx="476.9" cy="58.0" r="1.75" fill="#ff1414"/>
<circle cx="494.2" cy="50.6" r="1.75" fill="#ff1414"/>
<circle cx="472.5" cy="60.5" r="1.75" fill="#ff1414"/>
<circle cx="505.2" cy="45.3" r="1.75" fill="#ff1414"/>
<circle cx="503.7" cy="45.4" r="1.75" fill="#ff1414"/>
<circle cx="520.4" cy="36.9" r="1.75" fill="#ff1414"/>
<circle cx="459.3" cy="67.6" r="1.75" fill="#ff1414"/>
<circle cx="458.6" cy="67.8" r="1.75" fill="#ff1414"/>
<circle cx="466.5" cy="66.5" r="1.75" fill="#ff1414"/>
<circle cx="476.7" cy="58.3" r="1.75" fill="#ff1414"/>
<circle cx="526.2" cy="34.2" r="1.75" fill="#ff1414"/>
<circle cx="477.7" cy="59.0" r="1.75" fill="#ff1414"/>
<circle cx="533.1" cy="33.4" r="1.75" fill="#ff1414"/>
<circle cx="474.7" cy="59.1" r="1.75" fill="#ff1414"/>
<circle cx="460.8" cy="66.8" r="1.75" fill="#ff1414"/>
<circle cx="501.8" cy="45.7" r="1.75" fill="#ff1414"/>
<circle cx="489.7" cy="52.0" r="1.75" fill="#ff1414"/>
<circle cx="509.2" cy="42.5" r="1.75" fill="#ff1414"/>
<circle cx="340.5" cy="130.0" r="1.75" fill="#ff1414"/>
<circle cx="492.3" cy="50.4" r="1.75" fill="#ff1414"/>
<circle cx="506.5" cy="44.2" r="1.75" fill="#ff1414"/>
<circle cx="477.1" cy="59.3" r="1.75" fill="#ff1414"/>
<circle cx="487.2" cy="53.8" r="1.75" fill="#ff1414"/>
<circle cx="471.7" cy="60.5" r="1.75" fill="#ff1414"/>
<circle cx="498.4" cy="48.1" r="1.75" fill="#ff1414"/>
<circle cx="341.5" cy="124.0" r="1.75" fill="#7a7c08"/>
<circle cx="341.0" cy="115.7" r="1.75" fill="#7a7c08"/>
<circle cx="519.6" cy="41.1" r="1.75" fill="#7a7c08"/>
<circle cx="341.0" cy="118.0" r="1.75" fill="#7a7c08"/>
<circle cx="509.8" cy="42.0" r="1.75" fill="#7a7c08"/>
<circle cx="524.1" cy="39.9" r="1.75" fill="#7a7c08"/>
</g>
<line x1="331" y1="131.86" x2="543.2" y2="27.25" stroke="#222" stroke-width="1.2"/>
<line x1="341" y1="125.33" x2="535" y2="29.70" stroke="#222" stroke-width="1.4" stroke-dasharray="5.8 5.8" stroke-dashoffset="5.8"/>
</g>
<g clip-path="url(#cC)">
<line x1="50.8" y1="242.40" x2="262.6" y2="242.40" stroke="#a8a8a8" stroke-width="1" stroke-dasharray="2.86 2.86" stroke-dashoffset="0.78"/>
<line x1="50.8" y1="284.30" x2="262.6" y2="284.30" stroke="#a8a8a8" stroke-width="1" stroke-dasharray="2.86 2.86" stroke-dashoffset="0.78"/>
<line x1="50.8" y1="263.3" x2="262.6" y2="263.3" stroke="#111" stroke-width="1.1"/>
<g stroke="#111" stroke-width="0.7">
<circle cx="157.0" cy="282.0" r="1.75" fill="#0f8a84"/>
<circle cx="179.8" cy="277.7" r="1.75" fill="#ff1414"/>
<circle cx="159.9" cy="245.4" r="1.75" fill="#0f8a84"/>
<circle cx="228.8" cy="242.1" r="1.75" fill="#ff1414"/>
<circle cx="169.1" cy="290.9" r="1.75" fill="#0f8a84"/>
<circle cx="178.6" cy="284.4" r="1.75" fill="#0f8a84"/>
<circle cx="160.9" cy="265.8" r="1.75" fill="#0f8a84"/>
<circle cx="168.0" cy="274.1" r="1.75" fill="#0f8a84"/>
<circle cx="160.3" cy="272.4" r="1.75" fill="#0f8a84"/>
<circle cx="182.2" cy="278.6" r="1.75" fill="#ff1414"/>
<circle cx="155.3" cy="274.5" r="1.75" fill="#0f8a84"/>
<circle cx="174.4" cy="269.2" r="1.75" fill="#ff1414"/>
<circle cx="200.2" cy="285.3" r="1.75" fill="#ff1414"/>
<circle cx="163.1" cy="276.1" r="1.75" fill="#0f8a84"/>
<circle cx="184.5" cy="273.6" r="1.75" fill="#ff1414"/>
<circle cx="139.9" cy="265.8" r="1.75" fill="#0f8a84"/>
<circle cx="159.3" cy="245.0" r="1.75" fill="#0f8a84"/>
<circle cx="219.0" cy="257.0" r="1.75" fill="#ff1414"/>
<circle cx="144.5" cy="269.1" r="1.75" fill="#0f8a84"/>
<circle cx="193.6" cy="283.7" r="1.75" fill="#ff1414"/>
<circle cx="153.7" cy="268.2" r="1.75" fill="#0f8a84"/>
<circle cx="173.2" cy="258.5" r="1.75" fill="#ff1414"/>
<circle cx="155.7" cy="259.4" r="1.75" fill="#0f8a84"/>
<circle cx="165.9" cy="233.2" r="1.75" fill="#0f8a84"/>
<circle cx="206.6" cy="250.4" r="1.75" fill="#7a7c08"/>
<circle cx="199.4" cy="263.1" r="1.75" fill="#ff1414"/>
<circle cx="221.9" cy="267.0" r="1.75" fill="#7a7c08"/>
<circle cx="156.6" cy="246.2" r="1.75" fill="#0f8a84"/>
<circle cx="197.6" cy="249.4" r="1.75" fill="#ff1414"/>
<circle cx="221.9" cy="259.0" r="1.75" fill="#ff1414"/>
<circle cx="162.2" cy="249.1" r="1.75" fill="#0f8a84"/>
<circle cx="249.5" cy="247.3" r="1.75" fill="#ff1414"/>
<circle cx="189.8" cy="269.8" r="1.75" fill="#ff1414"/>
<circle cx="150.3" cy="244.2" r="1.75" fill="#0f8a84"/>
<circle cx="212.8" cy="256.0" r="1.75" fill="#ff1414"/>
<circle cx="167.7" cy="260.0" r="1.75" fill="#0f8a84"/>
<circle cx="186.8" cy="253.2" r="1.75" fill="#ff1414"/>
<circle cx="166.3" cy="286.4" r="1.75" fill="#ff1414"/>
<circle cx="160.0" cy="273.2" r="1.75" fill="#0f8a84"/>
<circle cx="174.3" cy="275.6" r="1.75" fill="#ff1414"/>
<circle cx="239.0" cy="305.7" r="1.75" fill="#ff1414"/>
<circle cx="162.2" cy="232.4" r="1.75" fill="#0f8a84"/>
<circle cx="165.8" cy="266.5" r="1.75" fill="#0f8a84"/>
<circle cx="146.2" cy="265.8" r="1.75" fill="#0f8a84"/>
<circle cx="168.8" cy="250.8" r="1.75" fill="#0f8a84"/>
<circle cx="186.9" cy="287.0" r="1.75" fill="#ff1414"/>
<circle cx="153.8" cy="281.0" r="1.75" fill="#0f8a84"/>
<circle cx="81.0" cy="316.6" r="1.75" fill="#ff1414"/>
<circle cx="153.7" cy="279.5" r="1.75" fill="#0f8a84"/>
<circle cx="169.2" cy="272.5" r="1.75" fill="#0f8a84"/>
<circle cx="198.3" cy="265.1" r="1.75" fill="#ff1414"/>
<circle cx="152.4" cy="252.9" r="1.75" fill="#0f8a84"/>
<circle cx="162.4" cy="278.7" r="1.75" fill="#0f8a84"/>
<circle cx="177.3" cy="284.9" r="1.75" fill="#0f8a84"/>
<circle cx="189.6" cy="277.1" r="1.75" fill="#ff1414"/>
<circle cx="150.7" cy="298.7" r="1.75" fill="#0f8a84"/>
<circle cx="196.9" cy="277.3" r="1.75" fill="#ff1414"/>
<circle cx="174.1" cy="274.4" r="1.75" fill="#ff1414"/>
<circle cx="182.2" cy="252.8" r="1.75" fill="#ff1414"/>
<circle cx="180.0" cy="263.0" r="1.75" fill="#0f8a84"/>
<circle cx="177.3" cy="262.3" r="1.75" fill="#0f8a84"/>
<circle cx="182.4" cy="255.3" r="1.75" fill="#ff1414"/>
<circle cx="157.0" cy="275.6" r="1.75" fill="#0f8a84"/>
<circle cx="81.0" cy="307.7" r="1.75" fill="#ff1414"/>
<circle cx="155.7" cy="259.0" r="1.75" fill="#0f8a84"/>
<circle cx="204.7" cy="269.7" r="1.75" fill="#ff1414"/>
<circle cx="157.2" cy="261.1" r="1.75" fill="#0f8a84"/>
<circle cx="228.8" cy="271.2" r="1.75" fill="#ff1414"/>
<circle cx="174.2" cy="244.5" r="1.75" fill="#ff1414"/>
<circle cx="198.4" cy="264.5" r="1.75" fill="#ff1414"/>
<circle cx="204.9" cy="261.0" r="1.75" fill="#ff1414"/>
<circle cx="191.2" cy="253.9" r="1.75" fill="#ff1414"/>
<circle cx="245.5" cy="244.7" r="1.75" fill="#ff1414"/>
<circle cx="198.0" cy="253.8" r="1.75" fill="#ff1414"/>
<circle cx="205.1" cy="260.7" r="1.75" fill="#ff1414"/>
<circle cx="198.7" cy="275.1" r="1.75" fill="#ff1414"/>
<circle cx="144.1" cy="246.2" r="1.75" fill="#0f8a84"/>
<circle cx="197.4" cy="262.0" r="1.75" fill="#ff1414"/>
<circle cx="178.8" cy="235.3" r="1.75" fill="#0f8a84"/>
<circle cx="198.0" cy="251.6" r="1.75" fill="#ff1414"/>
<circle cx="171.3" cy="252.0" r="1.75" fill="#0f8a84"/>
<circle cx="204.7" cy="276.4" r="1.75" fill="#ff1414"/>
<circle cx="239.0" cy="281.4" r="1.75" fill="#ff1414"/>
<circle cx="182.4" cy="278.7" r="1.75" fill="#ff1414"/>
<circle cx="198.8" cy="285.0" r="1.75" fill="#ff1414"/>
<circle cx="198.4" cy="264.3" r="1.75" fill="#ff1414"/>
<circle cx="190.3" cy="259.6" r="1.75" fill="#ff1414"/>
<circle cx="198.0" cy="278.4" r="1.75" fill="#ff1414"/>
<circle cx="198.4" cy="269.9" r="1.75" fill="#ff1414"/>
<circle cx="190.0" cy="261.0" r="1.75" fill="#ff1414"/>
<circle cx="204.3" cy="270.9" r="1.75" fill="#ff1414"/>
<circle cx="158.7" cy="265.8" r="1.75" fill="#0f8a84"/>
<circle cx="200.4" cy="271.2" r="1.75" fill="#ff1414"/>
<circle cx="214.0" cy="260.0" r="1.75" fill="#ff1414"/>
<circle cx="178.9" cy="274.6" r="1.75" fill="#0f8a84"/>
<circle cx="158.8" cy="256.2" r="1.75" fill="#ff1414"/>
<circle cx="193.6" cy="275.2" r="1.75" fill="#ff1414"/>
<circle cx="204.3" cy="274.8" r="1.75" fill="#ff1414"/>
<circle cx="142.8" cy="265.0" r="1.75" fill="#0f8a84"/>
<circle cx="166.0" cy="263.1" r="1.75" fill="#ff1414"/>
<circle cx="171.9" cy="262.1" r="1.75" fill="#0f8a84"/>
<circle cx="205.2" cy="259.4" r="1.75" fill="#ff1414"/>
<circle cx="168.5" cy="280.6" r="1.75" fill="#0f8a84"/>
<circle cx="147.2" cy="272.4" r="1.75" fill="#0f8a84"/>
<circle cx="135.3" cy="262.0" r="1.75" fill="#0f8a84"/>
<circle cx="154.9" cy="255.8" r="1.75" fill="#0f8a84"/>
<circle cx="221.9" cy="269.9" r="1.75" fill="#7a7c08"/>
<circle cx="207.0" cy="269.7" r="1.75" fill="#ff1414"/>
<circle cx="169.1" cy="283.7" r="1.75" fill="#0f8a84"/>
<circle cx="168.4" cy="255.0" r="1.75" fill="#0f8a84"/>
<circle cx="199.2" cy="250.1" r="1.75" fill="#ff1414"/>
<circle cx="186.5" cy="262.8" r="1.75" fill="#ff1414"/>
<circle cx="184.1" cy="258.1" r="1.75" fill="#ff1414"/>
<circle cx="163.0" cy="275.4" r="1.75" fill="#0f8a84"/>
<circle cx="158.4" cy="248.5" r="1.75" fill="#0f8a84"/>
<circle cx="140.5" cy="254.9" r="1.75" fill="#0f8a84"/>
<circle cx="170.1" cy="257.8" r="1.75" fill="#0f8a84"/>
<circle cx="206.6" cy="258.0" r="1.75" fill="#7a7c08"/>
<circle cx="189.0" cy="262.1" r="1.75" fill="#ff1414"/>
<circle cx="189.2" cy="262.6" r="1.75" fill="#ff1414"/>
<circle cx="206.1" cy="265.1" r="1.75" fill="#ff1414"/>
<circle cx="205.0" cy="272.0" r="1.75" fill="#ff1414"/>
<circle cx="203.3" cy="257.1" r="1.75" fill="#ff1414"/>
<circle cx="204.5" cy="255.7" r="1.75" fill="#ff1414"/>
<circle cx="189.7" cy="266.2" r="1.75" fill="#ff1414"/>
<circle cx="173.4" cy="255.5" r="1.75" fill="#0f8a84"/>
<circle cx="158.7" cy="275.3" r="1.75" fill="#0f8a84"/>
<circle cx="190.4" cy="257.8" r="1.75" fill="#ff1414"/>
<circle cx="198.5" cy="263.4" r="1.75" fill="#ff1414"/>
<circle cx="170.6" cy="267.4" r="1.75" fill="#0f8a84"/>
<circle cx="209.1" cy="257.2" r="1.75" fill="#ff1414"/>
<circle cx="208.8" cy="254.3" r="1.75" fill="#ff1414"/>
<circle cx="182.2" cy="242.4" r="1.75" fill="#ff1414"/>
<circle cx="178.3" cy="268.1" r="1.75" fill="#0f8a84"/>
<circle cx="186.8" cy="245.3" r="1.75" fill="#ff1414"/>
<circle cx="138.2" cy="262.4" r="1.75" fill="#0f8a84"/>
<circle cx="146.2" cy="257.9" r="1.75" fill="#0f8a84"/>
<circle cx="181.0" cy="267.9" r="1.75" fill="#ff1414"/>
<circle cx="177.2" cy="237.4" r="1.75" fill="#ff1414"/>
<circle cx="207.7" cy="268.6" r="1.75" fill="#ff1414"/>
<circle cx="204.4" cy="266.7" r="1.75" fill="#ff1414"/>
<circle cx="150.0" cy="244.9" r="1.75" fill="#0f8a84"/>
<circle cx="174.7" cy="261.5" r="1.75" fill="#ff1414"/>
<circle cx="249.5" cy="251.0" r="1.75" fill="#ff1414"/>
<circle cx="167.3" cy="273.5" r="1.75" fill="#0f8a84"/>
<circle cx="181.8" cy="274.1" r="1.75" fill="#ff1414"/>
<circle cx="168.8" cy="247.4" r="1.75" fill="#0f8a84"/>
<circle cx="158.1" cy="280.5" r="1.75" fill="#0f8a84"/>
<circle cx="144.1" cy="277.4" r="1.75" fill="#0f8a84"/>
<circle cx="177.1" cy="259.0" r="1.75" fill="#0f8a84"/>
<circle cx="161.2" cy="264.5" r="1.75" fill="#0f8a84"/>
<circle cx="190.2" cy="258.1" r="1.75" fill="#ff1414"/>
<circle cx="218.0" cy="261.0" r="1.75" fill="#ff1414"/>
<circle cx="229.0" cy="271.2" r="1.75" fill="#ff1414"/>
<circle cx="191.7" cy="273.0" r="1.75" fill="#ff1414"/>
<circle cx="182.5" cy="266.1" r="1.75" fill="#0f8a84"/>
<circle cx="132.5" cy="254.1" r="1.75" fill="#0f8a84"/>
<circle cx="127.8" cy="254.2" r="1.75" fill="#0f8a84"/>
<circle cx="159.9" cy="258.3" r="1.75" fill="#0f8a84"/>
<circle cx="152.4" cy="246.2" r="1.75" fill="#0f8a84"/>
<circle cx="164.7" cy="246.2" r="1.75" fill="#0f8a84"/>
<circle cx="152.0" cy="272.0" r="1.75" fill="#0f8a84"/>
<circle cx="144.1" cy="287.0" r="1.75" fill="#0f8a84"/>
<circle cx="157.0" cy="270.7" r="1.75" fill="#0f8a84"/>
<circle cx="176.8" cy="271.8" r="1.75" fill="#0f8a84"/>
<circle cx="198.3" cy="262.1" r="1.75" fill="#ff1414"/>
<circle cx="197.4" cy="285.0" r="1.75" fill="#ff1414"/>
<circle cx="156.2" cy="285.8" r="1.75" fill="#0f8a84"/>
<circle cx="139.9" cy="259.2" r="1.75" fill="#0f8a84"/>
<circle cx="197.6" cy="253.9" r="1.75" fill="#ff1414"/>
<circle cx="182.5" cy="278.9" r="1.75" fill="#ff1414"/>
<circle cx="188.6" cy="264.3" r="1.75" fill="#ff1414"/>
<circle cx="193.0" cy="257.0" r="1.75" fill="#ff1414"/>
<circle cx="159.5" cy="270.2" r="1.75" fill="#0f8a84"/>
<circle cx="170.8" cy="262.6" r="1.75" fill="#0f8a84"/>
<circle cx="154.7" cy="280.2" r="1.75" fill="#0f8a84"/>
<circle cx="157.8" cy="256.2" r="1.75" fill="#ff1414"/>
<circle cx="179.1" cy="289.0" r="1.75" fill="#0f8a84"/>
<circle cx="172.8" cy="265.6" r="1.75" fill="#0f8a84"/>
<circle cx="154.8" cy="265.5" r="1.75" fill="#0f8a84"/>
<circle cx="199.5" cy="256.6" r="1.75" fill="#ff1414"/>
<circle cx="152.8" cy="266.7" r="1.75" fill="#0f8a84"/>
<circle cx="174.2" cy="252.0" r="1.75" fill="#ff1414"/>
<circle cx="160.4" cy="269.3" r="1.75" fill="#0f8a84"/>
<circle cx="177.6" cy="264.4" r="1.75" fill="#ff1414"/>
<circle cx="216.5" cy="263.5" r="1.75" fill="#ff1414"/>
<circle cx="172.5" cy="286.9" r="1.75" fill="#0f8a84"/>
<circle cx="142.4" cy="257.9" r="1.75" fill="#0f8a84"/>
<circle cx="176.5" cy="268.1" r="1.75" fill="#ff1414"/>
<circle cx="174.5" cy="277.8" r="1.75" fill="#0f8a84"/>
<circle cx="160.3" cy="268.7" r="1.75" fill="#0f8a84"/>
<circle cx="203.8" cy="250.5" r="1.75" fill="#ff1414"/>
<circle cx="216.0" cy="255.0" r="1.75" fill="#ff1414"/>
<circle cx="148.7" cy="262.1" r="1.75" fill="#ff1414"/>
<circle cx="199.3" cy="267.3" r="1.75" fill="#ff1414"/>
<circle cx="140.9" cy="257.7" r="1.75" fill="#0f8a84"/>
<circle cx="175.3" cy="273.1" r="1.75" fill="#ff1414"/>
<circle cx="173.3" cy="280.0" r="1.75" fill="#0f8a84"/>
<circle cx="204.0" cy="277.7" r="1.75" fill="#ff1414"/>
<circle cx="177.6" cy="258.5" r="1.75" fill="#0f8a84"/>
<circle cx="190.4" cy="277.7" r="1.75" fill="#ff1414"/>
<circle cx="146.2" cy="242.5" r="1.75" fill="#0f8a84"/>
<circle cx="165.6" cy="241.9" r="1.75" fill="#0f8a84"/>
<circle cx="167.5" cy="274.5" r="1.75" fill="#0f8a84"/>
<circle cx="160.1" cy="262.1" r="1.75" fill="#0f8a84"/>
<circle cx="176.5" cy="275.3" r="1.75" fill="#0f8a84"/>
<circle cx="182.9" cy="253.7" r="1.75" fill="#ff1414"/>
<circle cx="147.0" cy="260.0" r="1.75" fill="#0f8a84"/>
<circle cx="171.7" cy="257.7" r="1.75" fill="#0f8a84"/>
<circle cx="157.9" cy="276.7" r="1.75" fill="#0f8a84"/>
<circle cx="173.5" cy="263.5" r="1.75" fill="#0f8a84"/>
<circle cx="59.4" cy="249.2" r="1.75" fill="#7a7c08"/>
<circle cx="172.0" cy="271.4" r="1.75" fill="#0f8a84"/>
<circle cx="81.0" cy="231.0" r="1.75" fill="#ff1414"/>
<circle cx="198.0" cy="250.7" r="1.75" fill="#ff1414"/>
<circle cx="168.4" cy="242.0" r="1.75" fill="#0f8a84"/>
<circle cx="183.9" cy="282.3" r="1.75" fill="#0f8a84"/>
<circle cx="198.4" cy="281.0" r="1.75" fill="#ff1414"/>
<circle cx="150.8" cy="278.2" r="1.75" fill="#0f8a84"/>
<circle cx="156.6" cy="280.3" r="1.75" fill="#0f8a84"/>
<circle cx="167.7" cy="256.0" r="1.75" fill="#0f8a84"/>
<circle cx="197.7" cy="255.4" r="1.75" fill="#ff1414"/>
<circle cx="169.2" cy="236.2" r="1.75" fill="#0f8a84"/>
<circle cx="174.3" cy="276.4" r="1.75" fill="#ff1414"/>
<circle cx="172.2" cy="237.0" r="1.75" fill="#0f8a84"/>
<circle cx="183.1" cy="270.9" r="1.75" fill="#ff1414"/>
<circle cx="208.3" cy="257.9" r="1.75" fill="#ff1414"/>
<circle cx="150.3" cy="267.8" r="1.75" fill="#0f8a84"/>
<circle cx="154.8" cy="259.5" r="1.75" fill="#0f8a84"/>
<circle cx="170.1" cy="254.1" r="1.75" fill="#0f8a84"/>
<circle cx="200.3" cy="217.5" r="1.75" fill="#ff1414"/>
<circle cx="166.5" cy="259.2" r="1.75" fill="#0f8a84"/>
<circle cx="144.5" cy="262.1" r="1.75" fill="#0f8a84"/>
<circle cx="166.3" cy="262.1" r="1.75" fill="#0f8a84"/>
<circle cx="204.5" cy="251.7" r="1.75" fill="#ff1414"/>
<circle cx="179.8" cy="270.0" r="1.75" fill="#ff1414"/>
<circle cx="189.1" cy="252.6" r="1.75" fill="#ff1414"/>
<circle cx="197.2" cy="249.9" r="1.75" fill="#ff1414"/>
<circle cx="197.9" cy="254.4" r="1.75" fill="#ff1414"/>
<circle cx="189.5" cy="279.9" r="1.75" fill="#ff1414"/>
<circle cx="150.8" cy="281.6" r="1.75" fill="#0f8a84"/>
<circle cx="204.2" cy="269.8" r="1.75" fill="#ff1414"/>
<circle cx="208.3" cy="257.0" r="1.75" fill="#ff1414"/>
<circle cx="217.0" cy="265.7" r="1.75" fill="#7a7c08"/>
<circle cx="180.2" cy="268.1" r="1.75" fill="#0f8a84"/>
<circle cx="249.5" cy="270.3" r="1.75" fill="#ff1414"/>
<circle cx="203.2" cy="272.7" r="1.75" fill="#ff1414"/>
<circle cx="150.8" cy="262.1" r="1.75" fill="#0f8a84"/>
<circle cx="213.0" cy="264.0" r="1.75" fill="#ff1414"/>
<circle cx="209.5" cy="261.7" r="1.75" fill="#ff1414"/>
<circle cx="150.2" cy="257.2" r="1.75" fill="#0f8a84"/>
<circle cx="160.1" cy="245.3" r="1.75" fill="#0f8a84"/>
<circle cx="155.3" cy="259.9" r="1.75" fill="#0f8a84"/>
<circle cx="159.1" cy="279.5" r="1.75" fill="#0f8a84"/>
<circle cx="181.8" cy="249.1" r="1.75" fill="#ff1414"/>
<circle cx="154.6" cy="266.8" r="1.75" fill="#0f8a84"/>
<circle cx="183.0" cy="264.9" r="1.75" fill="#ff1414"/>
<circle cx="165.6" cy="267.4" r="1.75" fill="#ff1414"/>
<circle cx="172.9" cy="259.3" r="1.75" fill="#ff1414"/>
<circle cx="207.0" cy="265.0" r="1.75" fill="#ff1414"/>
<circle cx="197.4" cy="292.0" r="1.75" fill="#ff1414"/>
<circle cx="127.8" cy="257.5" r="1.75" fill="#0f8a84"/>
<circle cx="147.0" cy="270.3" r="1.75" fill="#0f8a84"/>
<circle cx="198.5" cy="266.9" r="1.75" fill="#ff1414"/>
<circle cx="173.5" cy="268.8" r="1.75" fill="#0f8a84"/>
<circle cx="190.4" cy="279.8" r="1.75" fill="#ff1414"/>
<circle cx="198.7" cy="254.0" r="1.75" fill="#ff1414"/>
<circle cx="182.4" cy="285.9" r="1.75" fill="#ff1414"/>
<circle cx="132.4" cy="257.9" r="1.75" fill="#0f8a84"/>
<circle cx="194.7" cy="278.1" r="1.75" fill="#ff1414"/>
<circle cx="149.5" cy="274.1" r="1.75" fill="#ff1414"/>
<circle cx="189.6" cy="255.6" r="1.75" fill="#ff1414"/>
<circle cx="160.3" cy="266.7" r="1.75" fill="#0f8a84"/>
<circle cx="154.5" cy="289.5" r="1.75" fill="#0f8a84"/>
<circle cx="153.1" cy="267.6" r="1.75" fill="#0f8a84"/>
<circle cx="165.5" cy="272.9" r="1.75" fill="#0f8a84"/>
<circle cx="162.2" cy="252.0" r="1.75" fill="#0f8a84"/>
<circle cx="205.0" cy="276.8" r="1.75" fill="#ff1414"/>
<circle cx="59.4" cy="243.1" r="1.75" fill="#7a7c08"/>
<circle cx="149.5" cy="265.0" r="1.75" fill="#0f8a84"/>
<circle cx="166.3" cy="244.5" r="1.75" fill="#ff1414"/>
<circle cx="205.2" cy="251.5" r="1.75" fill="#ff1414"/>
<circle cx="174.2" cy="248.2" r="1.75" fill="#ff1414"/>
<circle cx="174.8" cy="263.4" r="1.75" fill="#ff1414"/>
<circle cx="182.2" cy="272.2" r="1.75" fill="#0f8a84"/>
<circle cx="135.8" cy="261.7" r="1.75" fill="#0f8a84"/>
<circle cx="154.4" cy="223.8" r="1.75" fill="#0f8a84"/>
<circle cx="189.7" cy="253.0" r="1.75" fill="#ff1414"/>
<circle cx="205.2" cy="248.3" r="1.75" fill="#ff1414"/>
<circle cx="147.8" cy="246.2" r="1.75" fill="#0f8a84"/>
<circle cx="190.1" cy="254.5" r="1.75" fill="#ff1414"/>
<circle cx="174.9" cy="265.6" r="1.75" fill="#ff1414"/>
<circle cx="200.2" cy="279.8" r="1.75" fill="#ff1414"/>
<circle cx="155.2" cy="260.6" r="1.75" fill="#0f8a84"/>
<circle cx="164.2" cy="283.2" r="1.75" fill="#0f8a84"/>
<circle cx="154.3" cy="270.3" r="1.75" fill="#0f8a84"/>
<circle cx="130.3" cy="255.8" r="1.75" fill="#0f8a84"/>
<circle cx="162.0" cy="279.1" r="1.75" fill="#0f8a84"/>
<circle cx="181.6" cy="264.1" r="1.75" fill="#0f8a84"/>
<circle cx="198.8" cy="254.5" r="1.75" fill="#ff1414"/>
<circle cx="148.7" cy="255.4" r="1.75" fill="#0f8a84"/>
<circle cx="204.0" cy="254.2" r="1.75" fill="#ff1414"/>
<circle cx="198.3" cy="273.8" r="1.75" fill="#ff1414"/>
<circle cx="173.5" cy="266.2" r="1.75" fill="#0f8a84"/>
<circle cx="245.5" cy="254.0" r="1.75" fill="#ff1414"/>
<circle cx="207.8" cy="256.1" r="1.75" fill="#ff1414"/>
<circle cx="198.5" cy="280.7" r="1.75" fill="#ff1414"/>
<circle cx="166.8" cy="254.1" r="1.75" fill="#ff1414"/>
<circle cx="165.9" cy="258.4" r="1.75" fill="#ff1414"/>
<circle cx="177.9" cy="280.2" r="1.75" fill="#0f8a84"/>
<circle cx="179.1" cy="285.6" r="1.75" fill="#0f8a84"/>
<circle cx="178.0" cy="282.6" r="1.75" fill="#0f8a84"/>
<circle cx="190.9" cy="269.9" r="1.75" fill="#ff1414"/>
<circle cx="157.0" cy="268.2" r="1.75" fill="#0f8a84"/>
<circle cx="176.8" cy="284.7" r="1.75" fill="#0f8a84"/>
<circle cx="174.4" cy="258.4" r="1.75" fill="#0f8a84"/>
<circle cx="175.8" cy="265.3" r="1.75" fill="#ff1414"/>
<circle cx="146.4" cy="234.0" r="1.75" fill="#0f8a84"/>
<circle cx="154.1" cy="262.1" r="1.75" fill="#0f8a84"/>
<circle cx="178.6" cy="287.6" r="1.75" fill="#0f8a84"/>
<circle cx="208.2" cy="271.9" r="1.75" fill="#ff1414"/>
<circle cx="198.4" cy="269.7" r="1.75" fill="#ff1414"/>
<circle cx="182.7" cy="272.5" r="1.75" fill="#ff1414"/>
<circle cx="157.0" cy="260.8" r="1.75" fill="#0f8a84"/>
<circle cx="158.2" cy="249.6" r="1.75" fill="#0f8a84"/>
<circle cx="197.2" cy="256.2" r="1.75" fill="#ff1414"/>
<circle cx="137.8" cy="252.5" r="1.75" fill="#0f8a84"/>
<circle cx="228.8" cy="263.6" r="1.75" fill="#ff1414"/>
<circle cx="181.8" cy="273.5" r="1.75" fill="#ff1414"/>
<circle cx="182.8" cy="275.2" r="1.75" fill="#ff1414"/>
<circle cx="148.6" cy="238.5" r="1.75" fill="#0f8a84"/>
<circle cx="173.9" cy="279.6" r="1.75" fill="#0f8a84"/>
<circle cx="204.7" cy="249.3" r="1.75" fill="#ff1414"/>
<circle cx="166.3" cy="239.1" r="1.75" fill="#ff1414"/>
<circle cx="166.3" cy="281.4" r="1.75" fill="#ff1414"/>
<circle cx="198.9" cy="271.3" r="1.75" fill="#ff1414"/>
<circle cx="165.6" cy="270.0" r="1.75" fill="#ff1414"/>
<circle cx="134.1" cy="256.2" r="1.75" fill="#0f8a84"/>
<circle cx="176.4" cy="274.4" r="1.75" fill="#0f8a84"/>
<circle cx="175.0" cy="261.3" r="1.75" fill="#ff1414"/>
<circle cx="198.0" cy="272.6" r="1.75" fill="#ff1414"/>
<circle cx="204.3" cy="270.5" r="1.75" fill="#ff1414"/>
<circle cx="239.0" cy="251.0" r="1.75" fill="#ff1414"/>
<circle cx="155.3" cy="264.9" r="1.75" fill="#0f8a84"/>
<circle cx="151.7" cy="259.2" r="1.75" fill="#0f8a84"/>
<circle cx="157.0" cy="265.0" r="1.75" fill="#0f8a84"/>
<circle cx="182.2" cy="263.7" r="1.75" fill="#ff1414"/>
<circle cx="190.5" cy="270.3" r="1.75" fill="#ff1414"/>
<circle cx="220.0" cy="265.0" r="1.75" fill="#ff1414"/>
<circle cx="159.9" cy="261.7" r="1.75" fill="#0f8a84"/>
<circle cx="199.2" cy="254.0" r="1.75" fill="#ff1414"/>
<circle cx="252.5" cy="274.7" r="1.75" fill="#ff1414"/>
<circle cx="204.0" cy="275.5" r="1.75" fill="#ff1414"/>
<circle cx="182.5" cy="271.2" r="1.75" fill="#ff1414"/>
<circle cx="168.6" cy="282.5" r="1.75" fill="#0f8a84"/>
<circle cx="205.0" cy="260.3" r="1.75" fill="#ff1414"/>
<circle cx="152.4" cy="250.4" r="1.75" fill="#0f8a84"/>
<circle cx="197.2" cy="256.2" r="1.75" fill="#ff1414"/>
<circle cx="201.2" cy="278.7" r="1.75" fill="#ff1414"/>
<circle cx="203.5" cy="271.2" r="1.75" fill="#ff1414"/>
<circle cx="182.1" cy="274.8" r="1.75" fill="#ff1414"/>
<circle cx="161.2" cy="250.4" r="1.75" fill="#0f8a84"/>
<circle cx="252.5" cy="261.5" r="1.75" fill="#ff1414"/>
<circle cx="205.0" cy="267.9" r="1.75" fill="#ff1414"/>
<circle cx="164.9" cy="270.7" r="1.75" fill="#ff1414"/>
<circle cx="188.6" cy="271.5" r="1.75" fill="#ff1414"/>
<circle cx="157.8" cy="272.8" r="1.75" fill="#ff1414"/>
<circle cx="197.4" cy="283.1" r="1.75" fill="#ff1414"/>
<circle cx="172.4" cy="280.4" r="1.75" fill="#0f8a84"/>
<circle cx="147.0" cy="277.8" r="1.75" fill="#0f8a84"/>
<circle cx="169.7" cy="257.0" r="1.75" fill="#0f8a84"/>
<circle cx="175.0" cy="264.3" r="1.75" fill="#ff1414"/>
<circle cx="147.1" cy="268.1" r="1.75" fill="#0f8a84"/>
<circle cx="184.1" cy="259.0" r="1.75" fill="#ff1414"/>
<circle cx="144.1" cy="255.4" r="1.75" fill="#0f8a84"/>
<circle cx="164.5" cy="279.7" r="1.75" fill="#0f8a84"/>
<circle cx="198.4" cy="279.0" r="1.75" fill="#ff1414"/>
<circle cx="252.5" cy="257.8" r="1.75" fill="#ff1414"/>
<circle cx="159.3" cy="265.3" r="1.75" fill="#0f8a84"/>
<circle cx="175.2" cy="280.9" r="1.75" fill="#0f8a84"/>
<circle cx="59.4" cy="264.0" r="1.75" fill="#7a7c08"/>
<circle cx="159.2" cy="281.1" r="1.75" fill="#0f8a84"/>
<circle cx="159.8" cy="262.7" r="1.75" fill="#0f8a84"/>
<circle cx="167.3" cy="261.6" r="1.75" fill="#ff1414"/>
<circle cx="195.0" cy="251.8" r="1.75" fill="#ff1414"/>
<circle cx="229.0" cy="242.6" r="1.75" fill="#ff1414"/>
<circle cx="177.4" cy="291.4" r="1.75" fill="#ff1414"/>
<circle cx="146.2" cy="282.0" r="1.75" fill="#0f8a84"/>
<circle cx="162.2" cy="272.2" r="1.75" fill="#0f8a84"/>
<circle cx="190.8" cy="275.6" r="1.75" fill="#ff1414"/>
<circle cx="174.6" cy="263.6" r="1.75" fill="#ff1414"/>
<circle cx="204.4" cy="275.0" r="1.75" fill="#ff1414"/>
<circle cx="202.8" cy="256.3" r="1.75" fill="#ff1414"/>
<circle cx="208.9" cy="263.8" r="1.75" fill="#ff1414"/>
<circle cx="196.9" cy="273.2" r="1.75" fill="#ff1414"/>
<circle cx="204.6" cy="257.5" r="1.75" fill="#ff1414"/>
<circle cx="132.0" cy="252.1" r="1.75" fill="#0f8a84"/>
<circle cx="152.2" cy="251.8" r="1.75" fill="#0f8a84"/>
<circle cx="170.5" cy="265.7" r="1.75" fill="#0f8a84"/>
<circle cx="163.9" cy="279.4" r="1.75" fill="#0f8a84"/>
<circle cx="204.0" cy="254.1" r="1.75" fill="#ff1414"/>
<circle cx="153.6" cy="268.9" r="1.75" fill="#0f8a84"/>
<circle cx="158.8" cy="249.5" r="1.75" fill="#0f8a84"/>
<circle cx="176.0" cy="256.5" r="1.75" fill="#ff1414"/>
<circle cx="194.6" cy="271.0" r="1.75" fill="#ff1414"/>
<circle cx="139.9" cy="266.2" r="1.75" fill="#0f8a84"/>
<circle cx="154.4" cy="309.0" r="1.75" fill="#0f8a84"/>
<circle cx="180.3" cy="280.2" r="1.75" fill="#0f8a84"/>
</g>
<line x1="65" y1="264.9" x2="255" y2="264.3" stroke="#111" stroke-width="1.4" stroke-dasharray="5.8 4.35 1.45 4.35"/>
</g>
<g clip-path="url(#cD)">
<line x1="331.1" y1="242.40" x2="543.1" y2="242.40" stroke="#a8a8a8" stroke-width="1" stroke-dasharray="2.86 2.86" stroke-dashoffset="0.0"/>
<line x1="331.1" y1="284.30" x2="543.1" y2="284.30" stroke="#a8a8a8" stroke-width="1" stroke-dasharray="2.86 2.86" stroke-dashoffset="0.0"/>
<line x1="331.1" y1="263.3" x2="543.1" y2="263.3" stroke="#111" stroke-width="1.1"/>
<g stroke="#111" stroke-width="0.7">
<circle cx="357.6" cy="276.2" r="1.75" fill="#0f8a84"/>
<circle cx="361.5" cy="289.5" r="1.75" fill="#0f8a84"/>
<circle cx="357.9" cy="281.1" r="1.75" fill="#0f8a84"/>
<circle cx="355.8" cy="272.9" r="1.75" fill="#ff1414"/>
<circle cx="363.9" cy="245.4" r="1.75" fill="#0f8a84"/>
<circle cx="374.4" cy="254.5" r="1.75" fill="#0f8a84"/>
<circle cx="351.5" cy="268.8" r="1.75" fill="#ff1414"/>
<circle cx="365.7" cy="278.4" r="1.75" fill="#0f8a84"/>
<circle cx="351.3" cy="274.8" r="1.75" fill="#ff1414"/>
<circle cx="370.1" cy="281.7" r="1.75" fill="#0f8a84"/>
<circle cx="363.5" cy="255.7" r="1.75" fill="#0f8a84"/>
<circle cx="375.0" cy="258.0" r="1.75" fill="#7a7c08"/>
<circle cx="359.9" cy="277.2" r="1.75" fill="#ff1414"/>
<circle cx="351.5" cy="271.8" r="1.75" fill="#ff1414"/>
<circle cx="343.9" cy="249.4" r="1.75" fill="#ff1414"/>
<circle cx="354.0" cy="281.7" r="1.75" fill="#0f8a84"/>
<circle cx="348.3" cy="282.6" r="1.75" fill="#ff1414"/>
<circle cx="533.0" cy="316.6" r="1.75" fill="#ff1414"/>
<circle cx="374.7" cy="251.7" r="1.75" fill="#0f8a84"/>
<circle cx="363.7" cy="255.9" r="1.75" fill="#ff1414"/>
<circle cx="372.2" cy="271.7" r="1.75" fill="#0f8a84"/>
<circle cx="377.2" cy="265.6" r="1.75" fill="#0f8a84"/>
<circle cx="349.3" cy="264.0" r="1.75" fill="#0f8a84"/>
<circle cx="364.5" cy="280.6" r="1.75" fill="#0f8a84"/>
<circle cx="366.6" cy="266.8" r="1.75" fill="#0f8a84"/>
<circle cx="340.5" cy="288.7" r="1.75" fill="#ff1414"/>
<circle cx="364.3" cy="271.0" r="1.75" fill="#0f8a84"/>
<circle cx="340.7" cy="288.1" r="1.75" fill="#ff1414"/>
<circle cx="373.2" cy="259.1" r="1.75" fill="#0f8a84"/>
<circle cx="365.9" cy="245.0" r="1.75" fill="#0f8a84"/>
<circle cx="351.6" cy="250.6" r="1.75" fill="#ff1414"/>
<circle cx="377.8" cy="263.9" r="1.75" fill="#0f8a84"/>
<circle cx="355.4" cy="246.6" r="1.75" fill="#ff1414"/>
<circle cx="359.0" cy="274.4" r="1.75" fill="#0f8a84"/>
<circle cx="533.1" cy="242.9" r="1.75" fill="#7a7c08"/>
<circle cx="371.9" cy="268.0" r="1.75" fill="#ff1414"/>
<circle cx="363.4" cy="256.6" r="1.75" fill="#ff1414"/>
<circle cx="355.7" cy="277.0" r="1.75" fill="#ff1414"/>
<circle cx="388.4" cy="270.9" r="1.75" fill="#ff1414"/>
<circle cx="348.7" cy="271.6" r="1.75" fill="#0f8a84"/>
<circle cx="364.5" cy="259.8" r="1.75" fill="#0f8a84"/>
<circle cx="355.7" cy="273.3" r="1.75" fill="#0f8a84"/>
<circle cx="371.7" cy="253.7" r="1.75" fill="#0f8a84"/>
<circle cx="373.9" cy="267.6" r="1.75" fill="#0f8a84"/>
<circle cx="349.9" cy="274.2" r="1.75" fill="#0f8a84"/>
<circle cx="366.3" cy="252.6" r="1.75" fill="#0f8a84"/>
<circle cx="352.2" cy="262.1" r="1.75" fill="#0f8a84"/>
<circle cx="371.7" cy="255.8" r="1.75" fill="#ff1414"/>
<circle cx="375.3" cy="259.8" r="1.75" fill="#0f8a84"/>
<circle cx="344.0" cy="261.5" r="1.75" fill="#ff1414"/>
<circle cx="365.6" cy="239.5" r="1.75" fill="#0f8a84"/>
<circle cx="361.3" cy="271.2" r="1.75" fill="#0f8a84"/>
<circle cx="355.4" cy="245.2" r="1.75" fill="#ff1414"/>
<circle cx="358.3" cy="271.4" r="1.75" fill="#0f8a84"/>
<circle cx="390.5" cy="256.9" r="1.75" fill="#0f8a84"/>
<circle cx="366.1" cy="240.1" r="1.75" fill="#0f8a84"/>
<circle cx="355.7" cy="263.9" r="1.75" fill="#ff1414"/>
<circle cx="357.1" cy="284.8" r="1.75" fill="#0f8a84"/>
<circle cx="356.2" cy="268.4" r="1.75" fill="#0f8a84"/>
<circle cx="348.2" cy="264.8" r="1.75" fill="#0f8a84"/>
<circle cx="348.3" cy="251.3" r="1.75" fill="#ff1414"/>
<circle cx="360.7" cy="285.3" r="1.75" fill="#0f8a84"/>
<circle cx="346.6" cy="257.0" r="1.75" fill="#0f8a84"/>
<circle cx="376.1" cy="262.4" r="1.75" fill="#0f8a84"/>
<circle cx="356.0" cy="280.2" r="1.75" fill="#0f8a84"/>
<circle cx="354.0" cy="282.0" r="1.75" fill="#0f8a84"/>
<circle cx="347.9" cy="249.8" r="1.75" fill="#ff1414"/>
<circle cx="368.2" cy="239.2" r="1.75" fill="#0f8a84"/>
<circle cx="363.4" cy="284.7" r="1.75" fill="#ff1414"/>
<circle cx="351.8" cy="274.7" r="1.75" fill="#ff1414"/>
<circle cx="363.6" cy="285.7" r="1.75" fill="#ff1414"/>
<circle cx="351.4" cy="255.2" r="1.75" fill="#ff1414"/>
<circle cx="372.0" cy="250.7" r="1.75" fill="#ff1414"/>
<circle cx="359.6" cy="279.9" r="1.75" fill="#0f8a84"/>
<circle cx="359.7" cy="253.1" r="1.75" fill="#ff1414"/>
<circle cx="360.1" cy="285.0" r="1.75" fill="#0f8a84"/>
<circle cx="348.6" cy="278.9" r="1.75" fill="#0f8a84"/>
<circle cx="343.7" cy="243.0" r="1.75" fill="#0f8a84"/>
<circle cx="352.1" cy="269.7" r="1.75" fill="#0f8a84"/>
<circle cx="355.4" cy="280.6" r="1.75" fill="#ff1414"/>
<circle cx="363.7" cy="264.9" r="1.75" fill="#ff1414"/>
<circle cx="353.0" cy="268.9" r="1.75" fill="#0f8a84"/>
<circle cx="364.0" cy="305.6" r="1.75" fill="#ff1414"/>
<circle cx="378.5" cy="252.3" r="1.75" fill="#0f8a84"/>
<circle cx="359.4" cy="260.3" r="1.75" fill="#0f8a84"/>
<circle cx="363.6" cy="247.9" r="1.75" fill="#0f8a84"/>
<circle cx="372.3" cy="291.1" r="1.75" fill="#ff1414"/>
<circle cx="340.6" cy="250.8" r="1.75" fill="#ff1414"/>
<circle cx="368.2" cy="241.1" r="1.75" fill="#0f8a84"/>
<circle cx="372.0" cy="246.0" r="1.75" fill="#0f8a84"/>
<circle cx="374.8" cy="271.7" r="1.75" fill="#0f8a84"/>
<circle cx="356.2" cy="286.1" r="1.75" fill="#ff1414"/>
<circle cx="340.5" cy="271.8" r="1.75" fill="#ff1414"/>
<circle cx="533.1" cy="249.3" r="1.75" fill="#7a7c08"/>
<circle cx="341.0" cy="250.4" r="1.75" fill="#7a7c08"/>
<circle cx="347.6" cy="255.5" r="1.75" fill="#ff1414"/>
<circle cx="365.9" cy="263.7" r="1.75" fill="#0f8a84"/>
<circle cx="353.5" cy="277.1" r="1.75" fill="#0f8a84"/>
<circle cx="348.1" cy="281.8" r="1.75" fill="#ff1414"/>
<circle cx="379.7" cy="255.9" r="1.75" fill="#0f8a84"/>
<circle cx="362.6" cy="275.2" r="1.75" fill="#0f8a84"/>
<circle cx="360.7" cy="281.1" r="1.75" fill="#0f8a84"/>
<circle cx="364.0" cy="281.1" r="1.75" fill="#ff1414"/>
<circle cx="340.8" cy="275.0" r="1.75" fill="#ff1414"/>
<circle cx="351.0" cy="252.2" r="1.75" fill="#ff1414"/>
<circle cx="340.5" cy="278.6" r="1.75" fill="#ff1414"/>
<circle cx="367.8" cy="267.3" r="1.75" fill="#0f8a84"/>
<circle cx="374.1" cy="270.2" r="1.75" fill="#0f8a84"/>
<circle cx="361.2" cy="308.3" r="1.75" fill="#0f8a84"/>
<circle cx="363.7" cy="251.2" r="1.75" fill="#ff1414"/>
<circle cx="344.0" cy="286.1" r="1.75" fill="#ff1414"/>
<circle cx="356.0" cy="268.0" r="1.75" fill="#7a7c08"/>
<circle cx="372.1" cy="245.8" r="1.75" fill="#0f8a84"/>
<circle cx="368.9" cy="265.7" r="1.75" fill="#0f8a84"/>
<circle cx="360.1" cy="270.6" r="1.75" fill="#ff1414"/>
<circle cx="351.6" cy="259.5" r="1.75" fill="#0f8a84"/>
<circle cx="370.5" cy="242.7" r="1.75" fill="#0f8a84"/>
<circle cx="344.3" cy="281.0" r="1.75" fill="#ff1414"/>
<circle cx="368.2" cy="253.9" r="1.75" fill="#0f8a84"/>
<circle cx="369.9" cy="252.8" r="1.75" fill="#0f8a84"/>
<circle cx="355.8" cy="245.4" r="1.75" fill="#ff1414"/>
<circle cx="355.6" cy="278.2" r="1.75" fill="#ff1414"/>
<circle cx="363.6" cy="275.2" r="1.75" fill="#ff1414"/>
<circle cx="351.1" cy="269.6" r="1.75" fill="#0f8a84"/>
<circle cx="359.2" cy="280.9" r="1.75" fill="#0f8a84"/>
<circle cx="365.7" cy="275.7" r="1.75" fill="#0f8a84"/>
<circle cx="363.6" cy="236.7" r="1.75" fill="#0f8a84"/>
<circle cx="361.8" cy="290.0" r="1.75" fill="#0f8a84"/>
<circle cx="367.2" cy="266.6" r="1.75" fill="#0f8a84"/>
<circle cx="350.5" cy="241.9" r="1.75" fill="#0f8a84"/>
<circle cx="372.3" cy="257.8" r="1.75" fill="#ff1414"/>
<circle cx="355.8" cy="242.7" r="1.75" fill="#ff1414"/>
<circle cx="354.6" cy="258.3" r="1.75" fill="#0f8a84"/>
<circle cx="358.8" cy="240.4" r="1.75" fill="#0f8a84"/>
<circle cx="365.6" cy="254.8" r="1.75" fill="#0f8a84"/>
<circle cx="351.8" cy="279.0" r="1.75" fill="#ff1414"/>
<circle cx="386.7" cy="259.8" r="1.75" fill="#0f8a84"/>
<circle cx="363.9" cy="283.1" r="1.75" fill="#ff1414"/>
<circle cx="372.6" cy="286.1" r="1.75" fill="#ff1414"/>
<circle cx="368.0" cy="263.1" r="1.75" fill="#0f8a84"/>
<circle cx="377.4" cy="258.8" r="1.75" fill="#0f8a84"/>
<circle cx="366.2" cy="281.7" r="1.75" fill="#0f8a84"/>
<circle cx="351.8" cy="248.2" r="1.75" fill="#ff1414"/>
<circle cx="374.5" cy="264.0" r="1.75" fill="#0f8a84"/>
<circle cx="533.1" cy="264.3" r="1.75" fill="#7a7c08"/>
<circle cx="353.4" cy="248.9" r="1.75" fill="#0f8a84"/>
<circle cx="378.5" cy="268.1" r="1.75" fill="#0f8a84"/>
<circle cx="363.3" cy="256.9" r="1.75" fill="#ff1414"/>
<circle cx="359.1" cy="253.7" r="1.75" fill="#0f8a84"/>
<circle cx="368.2" cy="245.8" r="1.75" fill="#0f8a84"/>
<circle cx="356.9" cy="282.4" r="1.75" fill="#0f8a84"/>
<circle cx="372.2" cy="258.1" r="1.75" fill="#ff1414"/>
<circle cx="351.6" cy="271.5" r="1.75" fill="#ff1414"/>
<circle cx="344.0" cy="243.0" r="1.75" fill="#0f8a84"/>
<circle cx="348.4" cy="264.3" r="1.75" fill="#ff1414"/>
<circle cx="355.6" cy="279.4" r="1.75" fill="#ff1414"/>
<circle cx="341.6" cy="235.7" r="1.75" fill="#0f8a84"/>
<circle cx="371.6" cy="279.5" r="1.75" fill="#0f8a84"/>
<circle cx="372.0" cy="273.8" r="1.75" fill="#ff1414"/>
<circle cx="355.3" cy="266.9" r="1.75" fill="#0f8a84"/>
<circle cx="380.5" cy="276.0" r="1.75" fill="#ff1414"/>
<circle cx="372.0" cy="268.1" r="1.75" fill="#0f8a84"/>
<circle cx="360.0" cy="246.6" r="1.75" fill="#0f8a84"/>
<circle cx="347.7" cy="263.7" r="1.75" fill="#ff1414"/>
<circle cx="340.1" cy="258.7" r="1.75" fill="#ff1414"/>
<circle cx="386.2" cy="254.8" r="1.75" fill="#0f8a84"/>
<circle cx="353.3" cy="254.4" r="1.75" fill="#0f8a84"/>
<circle cx="375.0" cy="252.9" r="1.75" fill="#0f8a84"/>
<circle cx="344.0" cy="290.6" r="1.75" fill="#0f8a84"/>
<circle cx="363.6" cy="277.4" r="1.75" fill="#ff1414"/>
<circle cx="344.0" cy="263.8" r="1.75" fill="#ff1414"/>
<circle cx="348.9" cy="272.1" r="1.75" fill="#0f8a84"/>
<circle cx="354.5" cy="232.0" r="1.75" fill="#0f8a84"/>
<circle cx="370.5" cy="256.3" r="1.75" fill="#0f8a84"/>
<circle cx="379.5" cy="263.3" r="1.75" fill="#0f8a84"/>
<circle cx="383.5" cy="253.0" r="1.75" fill="#0f8a84"/>
<circle cx="363.4" cy="284.6" r="1.75" fill="#0f8a84"/>
<circle cx="365.7" cy="298.3" r="1.75" fill="#0f8a84"/>
<circle cx="348.1" cy="261.5" r="1.75" fill="#ff1414"/>
<circle cx="340.7" cy="282.5" r="1.75" fill="#ff1414"/>
<circle cx="362.6" cy="256.8" r="1.75" fill="#0f8a84"/>
<circle cx="343.4" cy="283.3" r="1.75" fill="#ff1414"/>
<circle cx="347.9" cy="272.4" r="1.75" fill="#ff1414"/>
<circle cx="367.5" cy="272.7" r="1.75" fill="#0f8a84"/>
<circle cx="351.5" cy="244.2" r="1.75" fill="#ff1414"/>
<circle cx="369.0" cy="237.0" r="1.75" fill="#0f8a84"/>
<circle cx="341.8" cy="287.8" r="1.75" fill="#0f8a84"/>
<circle cx="349.4" cy="262.3" r="1.75" fill="#0f8a84"/>
<circle cx="359.6" cy="247.3" r="1.75" fill="#ff1414"/>
<circle cx="388.4" cy="277.4" r="1.75" fill="#ff1414"/>
<circle cx="351.2" cy="257.5" r="1.75" fill="#ff1414"/>
<circle cx="380.9" cy="268.1" r="1.75" fill="#ff1414"/>
<circle cx="367.8" cy="259.3" r="1.75" fill="#0f8a84"/>
<circle cx="340.1" cy="266.8" r="1.75" fill="#ff1414"/>
<circle cx="384.7" cy="261.1" r="1.75" fill="#0f8a84"/>
<circle cx="360.1" cy="273.1" r="1.75" fill="#ff1414"/>
<circle cx="360.3" cy="273.7" r="1.75" fill="#ff1414"/>
<circle cx="340.6" cy="272.4" r="1.75" fill="#ff1414"/>
<circle cx="349.2" cy="271.6" r="1.75" fill="#0f8a84"/>
<circle cx="365.4" cy="280.7" r="1.75" fill="#0f8a84"/>
<circle cx="343.6" cy="282.0" r="1.75" fill="#ff1414"/>
<circle cx="369.8" cy="250.8" r="1.75" fill="#0f8a84"/>
<circle cx="345.8" cy="241.3" r="1.75" fill="#0f8a84"/>
<circle cx="348.2" cy="254.9" r="1.75" fill="#ff1414"/>
<circle cx="386.9" cy="254.9" r="1.75" fill="#0f8a84"/>
<circle cx="355.9" cy="276.6" r="1.75" fill="#ff1414"/>
<circle cx="354.3" cy="284.8" r="1.75" fill="#0f8a84"/>
<circle cx="369.3" cy="265.6" r="1.75" fill="#0f8a84"/>
<circle cx="366.0" cy="281.8" r="1.75" fill="#0f8a84"/>
<circle cx="353.4" cy="287.5" r="1.75" fill="#0f8a84"/>
<circle cx="348.0" cy="279.9" r="1.75" fill="#ff1414"/>
<circle cx="351.8" cy="271.7" r="1.75" fill="#0f8a84"/>
<circle cx="382.8" cy="260.3" r="1.75" fill="#0f8a84"/>
<circle cx="350.3" cy="247.3" r="1.75" fill="#0f8a84"/>
<circle cx="352.2" cy="279.9" r="1.75" fill="#0f8a84"/>
<circle cx="340.4" cy="272.3" r="1.75" fill="#ff1414"/>
<circle cx="343.7" cy="261.0" r="1.75" fill="#7a7c08"/>
<circle cx="363.8" cy="284.7" r="1.75" fill="#0f8a84"/>
<circle cx="356.3" cy="279.5" r="1.75" fill="#0f8a84"/>
<circle cx="354.3" cy="270.3" r="1.75" fill="#0f8a84"/>
<circle cx="361.5" cy="223.6" r="1.75" fill="#0f8a84"/>
<circle cx="347.8" cy="264.9" r="1.75" fill="#ff1414"/>
<circle cx="368.3" cy="279.8" r="1.75" fill="#0f8a84"/>
<circle cx="374.9" cy="262.6" r="1.75" fill="#0f8a84"/>
<circle cx="368.2" cy="276.0" r="1.75" fill="#0f8a84"/>
<circle cx="374.3" cy="251.2" r="1.75" fill="#0f8a84"/>
<circle cx="340.4" cy="264.3" r="1.75" fill="#ff1414"/>
<circle cx="358.1" cy="249.7" r="1.75" fill="#0f8a84"/>
<circle cx="382.5" cy="264.5" r="1.75" fill="#0f8a84"/>
<circle cx="363.2" cy="256.4" r="1.75" fill="#0f8a84"/>
<circle cx="350.0" cy="255.0" r="1.75" fill="#7a7c08"/>
<circle cx="362.7" cy="265.2" r="1.75" fill="#0f8a84"/>
<circle cx="387.1" cy="257.2" r="1.75" fill="#0f8a84"/>
<circle cx="350.0" cy="233.0" r="1.75" fill="#0f8a84"/>
<circle cx="343.8" cy="250.8" r="1.75" fill="#ff1414"/>
<circle cx="363.9" cy="271.1" r="1.75" fill="#ff1414"/>
<circle cx="340.2" cy="271.6" r="1.75" fill="#ff1414"/>
<circle cx="340.2" cy="263.3" r="1.75" fill="#ff1414"/>
<circle cx="363.3" cy="268.0" r="1.75" fill="#ff1414"/>
<circle cx="351.7" cy="260.6" r="1.75" fill="#ff1414"/>
<circle cx="355.8" cy="285.9" r="1.75" fill="#ff1414"/>
<circle cx="343.8" cy="282.0" r="1.75" fill="#ff1414"/>
<circle cx="343.9" cy="246.0" r="1.75" fill="#ff1414"/>
<circle cx="340.7" cy="217.5" r="1.75" fill="#ff1414"/>
<circle cx="372.5" cy="255.0" r="1.75" fill="#ff1414"/>
<circle cx="363.4" cy="248.9" r="1.75" fill="#ff1414"/>
<circle cx="343.8" cy="282.0" r="1.75" fill="#ff1414"/>
<circle cx="344.0" cy="263.5" r="1.75" fill="#ff1414"/>
<circle cx="355.8" cy="242.7" r="1.75" fill="#ff1414"/>
<circle cx="340.3" cy="283.9" r="1.75" fill="#ff1414"/>
<circle cx="355.9" cy="255.0" r="1.75" fill="#ff1414"/>
<circle cx="343.8" cy="252.0" r="1.75" fill="#ff1414"/>
<circle cx="360.2" cy="265.4" r="1.75" fill="#ff1414"/>
<circle cx="340.4" cy="291.1" r="1.75" fill="#ff1414"/>
<circle cx="388.0" cy="274.0" r="1.75" fill="#ff1414"/>
<circle cx="344.1" cy="274.5" r="1.75" fill="#ff1414"/>
<circle cx="360.3" cy="276.0" r="1.75" fill="#ff1414"/>
<circle cx="388.0" cy="268.5" r="1.75" fill="#ff1414"/>
<circle cx="344.3" cy="286.1" r="1.75" fill="#ff1414"/>
<circle cx="343.8" cy="263.9" r="1.75" fill="#ff1414"/>
<circle cx="340.5" cy="261.2" r="1.75" fill="#ff1414"/>
<circle cx="340.6" cy="257.6" r="1.75" fill="#ff1414"/>
<circle cx="341.2" cy="292.2" r="1.75" fill="#ff1414"/>
<circle cx="360.4" cy="260.3" r="1.75" fill="#ff1414"/>
<circle cx="355.7" cy="242.8" r="1.75" fill="#ff1414"/>
<circle cx="341.2" cy="285.0" r="1.75" fill="#ff1414"/>
<circle cx="380.8" cy="269.9" r="1.75" fill="#ff1414"/>
<circle cx="372.3" cy="281.1" r="1.75" fill="#ff1414"/>
<circle cx="344.4" cy="261.0" r="1.75" fill="#ff1414"/>
<circle cx="340.3" cy="275.2" r="1.75" fill="#ff1414"/>
<circle cx="343.8" cy="269.6" r="1.75" fill="#ff1414"/>
<circle cx="388.2" cy="268.7" r="1.75" fill="#ff1414"/>
<circle cx="355.5" cy="258.5" r="1.75" fill="#ff1414"/>
<circle cx="356.2" cy="248.5" r="1.75" fill="#ff1414"/>
<circle cx="344.0" cy="249.2" r="1.75" fill="#ff1414"/>
<circle cx="340.2" cy="277.0" r="1.75" fill="#ff1414"/>
<circle cx="388.0" cy="277.5" r="1.75" fill="#ff1414"/>
<circle cx="363.4" cy="264.3" r="1.75" fill="#ff1414"/>
<circle cx="363.7" cy="243.6" r="1.75" fill="#ff1414"/>
<circle cx="380.5" cy="272.0" r="1.75" fill="#ff1414"/>
<circle cx="340.7" cy="280.6" r="1.75" fill="#ff1414"/>
<circle cx="351.7" cy="266.2" r="1.75" fill="#ff1414"/>
<circle cx="355.5" cy="261.6" r="1.75" fill="#ff1414"/>
<circle cx="340.1" cy="253.9" r="1.75" fill="#ff1414"/>
<circle cx="343.9" cy="282.2" r="1.75" fill="#ff1414"/>
<circle cx="340.3" cy="276.4" r="1.75" fill="#ff1414"/>
<circle cx="340.1" cy="263.8" r="1.75" fill="#ff1414"/>
<circle cx="355.5" cy="268.9" r="1.75" fill="#ff1414"/>
<circle cx="355.8" cy="262.9" r="1.75" fill="#ff1414"/>
<circle cx="347.5" cy="258.8" r="1.75" fill="#ff1414"/>
<circle cx="372.5" cy="267.5" r="1.75" fill="#ff1414"/>
<circle cx="340.3" cy="271.1" r="1.75" fill="#ff1414"/>
<circle cx="359.6" cy="270.5" r="1.75" fill="#ff1414"/>
<circle cx="340.4" cy="250.7" r="1.75" fill="#ff1414"/>
<circle cx="363.2" cy="274.7" r="1.75" fill="#ff1414"/>
<circle cx="360.5" cy="263.5" r="1.75" fill="#ff1414"/>
<circle cx="351.4" cy="275.5" r="1.75" fill="#ff1414"/>
<circle cx="533.0" cy="307.7" r="1.75" fill="#ff1414"/>
<circle cx="355.8" cy="281.2" r="1.75" fill="#ff1414"/>
<circle cx="343.9" cy="246.9" r="1.75" fill="#ff1414"/>
<circle cx="372.1" cy="284.4" r="1.75" fill="#ff1414"/>
<circle cx="533.0" cy="231.0" r="1.75" fill="#ff1414"/>
<circle cx="372.1" cy="276.0" r="1.75" fill="#ff1414"/>
<circle cx="360.3" cy="276.6" r="1.75" fill="#ff1414"/>
<circle cx="363.4" cy="267.9" r="1.75" fill="#ff1414"/>
<circle cx="364.4" cy="287.7" r="1.75" fill="#ff1414"/>
<circle cx="356.2" cy="266.3" r="1.75" fill="#ff1414"/>
<circle cx="344.0" cy="277.1" r="1.75" fill="#ff1414"/>
<circle cx="356.0" cy="286.6" r="1.75" fill="#ff1414"/>
<circle cx="348.4" cy="252.1" r="1.75" fill="#ff1414"/>
<circle cx="380.0" cy="242.5" r="1.75" fill="#ff1414"/>
<circle cx="363.5" cy="276.4" r="1.75" fill="#ff1414"/>
<circle cx="372.3" cy="287.2" r="1.75" fill="#ff1414"/>
<circle cx="355.5" cy="277.6" r="1.75" fill="#ff1414"/>
<circle cx="340.7" cy="259.0" r="1.75" fill="#ff1414"/>
<circle cx="344.0" cy="288.6" r="1.75" fill="#ff1414"/>
<circle cx="363.5" cy="280.9" r="1.75" fill="#ff1414"/>
<circle cx="371.8" cy="267.9" r="1.75" fill="#ff1414"/>
<circle cx="380.8" cy="275.1" r="1.75" fill="#ff1414"/>
<circle cx="356.2" cy="284.6" r="1.75" fill="#ff1414"/>
</g>
<line x1="388" y1="263.9" x2="533" y2="263.9" stroke="#111" stroke-width="1.2" stroke-dasharray="6 4"/>
</g>
<rect x="41" y="26.2" width="221.50" height="108.40" fill="none" stroke="#333" stroke-width="1.1"/>
<line x1="102.80" y1="134.6" x2="102.80" y2="137.20" stroke="#333" stroke-width="1"/>
<text x="102.80" y="150.50" text-anchor="middle" class="tk">-2</text>
<line x1="165.00" y1="134.6" x2="165.00" y2="137.20" stroke="#333" stroke-width="1"/>
<text x="165.00" y="150.50" text-anchor="middle" class="tk">0</text>
<line x1="227.20" y1="134.6" x2="227.20" y2="137.20" stroke="#333" stroke-width="1"/>
<text x="227.20" y="150.50" text-anchor="middle" class="tk">2</text>
<line x1="38.40" y1="42.16" x2="41" y2="42.16" stroke="#333" stroke-width="1"/>
<text x="35.70" y="46.96" text-anchor="end" class="tk">2</text>
<line x1="38.40" y1="60.60" x2="41" y2="60.60" stroke="#333" stroke-width="1"/>
<text x="35.70" y="65.40" text-anchor="end" class="tk">0</text>
<line x1="38.40" y1="79.04" x2="41" y2="79.04" stroke="#333" stroke-width="1"/>
<text x="35.70" y="83.84" text-anchor="end" class="tk">-2</text>
<line x1="38.40" y1="97.48" x2="41" y2="97.48" stroke="#333" stroke-width="1"/>
<text x="35.70" y="102.28" text-anchor="end" class="tk">-4</text>
<line x1="38.40" y1="115.92" x2="41" y2="115.92" stroke="#333" stroke-width="1"/>
<text x="35.70" y="120.72" text-anchor="end" class="tk">-6</text>
<line x1="38.40" y1="134.36" x2="41" y2="134.36" stroke="#333" stroke-width="1"/>
<text x="35.70" y="139.16" text-anchor="end" class="tk">-8</text>
<text x="40.7" y="18.60" class="ti">DV vs PRED</text>
<text x="150.95" y="166.10" text-anchor="middle" class="ax">Population predictions</text>
<text transform="translate(21.2,80.40) rotate(-90)" x="0" y="0" text-anchor="middle" class="ay" style="font-size:15.8px">Observation</text>
<rect x="331" y="26.4" width="212.20" height="108.20" fill="none" stroke="#333" stroke-width="1.1"/>
<line x1="335.02" y1="134.6" x2="335.02" y2="137.20" stroke="#333" stroke-width="1"/>
<text x="335.02" y="150.50" text-anchor="middle" class="tk">-7.5</text>
<line x1="382.95" y1="134.6" x2="382.95" y2="137.20" stroke="#333" stroke-width="1"/>
<text x="382.95" y="150.50" text-anchor="middle" class="tk">-5.0</text>
<line x1="430.88" y1="134.6" x2="430.88" y2="137.20" stroke="#333" stroke-width="1"/>
<text x="430.88" y="150.50" text-anchor="middle" class="tk">-2.5</text>
<line x1="478.80" y1="134.6" x2="478.80" y2="137.20" stroke="#333" stroke-width="1"/>
<text x="478.80" y="150.50" text-anchor="middle" class="tk">0.0</text>
<line x1="526.73" y1="134.6" x2="526.73" y2="137.20" stroke="#333" stroke-width="1"/>
<text x="526.73" y="150.50" text-anchor="middle" class="tk">2.5</text>
<line x1="328.40" y1="34.98" x2="331" y2="34.98" stroke="#333" stroke-width="1"/>
<text x="325.70" y="39.77" text-anchor="end" class="tk">2.5</text>
<line x1="328.40" y1="58.60" x2="331" y2="58.60" stroke="#333" stroke-width="1"/>
<text x="325.70" y="63.40" text-anchor="end" class="tk">0.0</text>
<line x1="328.40" y1="82.22" x2="331" y2="82.22" stroke="#333" stroke-width="1"/>
<text x="325.70" y="87.02" text-anchor="end" class="tk">-2.5</text>
<line x1="328.40" y1="105.85" x2="331" y2="105.85" stroke="#333" stroke-width="1"/>
<text x="325.70" y="110.65" text-anchor="end" class="tk">-5.0</text>
<line x1="328.40" y1="129.47" x2="331" y2="129.47" stroke="#333" stroke-width="1"/>
<text x="325.70" y="134.28" text-anchor="end" class="tk">-7.5</text>
<text x="330.7" y="18.80" class="ti">DV vs IPRED</text>
<text x="436.30" y="166.10" text-anchor="middle" class="ax">Individual predictions</text>
<text transform="translate(301.2,80.50) rotate(-90)" x="0" y="0" text-anchor="middle" class="ay" style="font-size:15.8px">Observation</text>
<rect x="50.8" y="212.7" width="211.80" height="108.60" fill="none" stroke="#333" stroke-width="1.1"/>
<line x1="109.30" y1="321.3" x2="109.30" y2="323.90" stroke="#333" stroke-width="1"/>
<text x="109.30" y="337.20" text-anchor="middle" class="tk">-2</text>
<line x1="168.80" y1="321.3" x2="168.80" y2="323.90" stroke="#333" stroke-width="1"/>
<text x="168.80" y="337.20" text-anchor="middle" class="tk">0</text>
<line x1="228.30" y1="321.3" x2="228.30" y2="323.90" stroke="#333" stroke-width="1"/>
<text x="228.30" y="337.20" text-anchor="middle" class="tk">2</text>
<line x1="48.20" y1="236.80" x2="50.8" y2="236.80" stroke="#333" stroke-width="1"/>
<text x="45.50" y="241.60" text-anchor="end" class="tk">2.5</text>
<line x1="48.20" y1="263.30" x2="50.8" y2="263.30" stroke="#333" stroke-width="1"/>
<text x="45.50" y="268.10" text-anchor="end" class="tk">0.0</text>
<line x1="48.20" y1="289.80" x2="50.8" y2="289.80" stroke="#333" stroke-width="1"/>
<text x="45.50" y="294.60" text-anchor="end" class="tk">-2.5</text>
<line x1="48.20" y1="316.30" x2="50.8" y2="316.30" stroke="#333" stroke-width="1"/>
<text x="45.50" y="321.10" text-anchor="end" class="tk">-5.0</text>
<text x="50.5" y="205.10" class="ti">CWRES vs PRED</text>
<text x="155.90" y="352.80" text-anchor="middle" class="ax">Population predictions</text>
<text transform="translate(20.9,267.00) rotate(-90)" x="0" y="0" text-anchor="middle" class="ay" style="font-size:15.5px">CWRES</text>
<rect x="331.1" y="212.8" width="212.00" height="108.50" fill="none" stroke="#333" stroke-width="1.1"/>
<line x1="340.00" y1="321.3" x2="340.00" y2="323.90" stroke="#333" stroke-width="1"/>
<text x="340.00" y="337.20" text-anchor="middle" class="tk">0</text>
<line x1="380.18" y1="321.3" x2="380.18" y2="323.90" stroke="#333" stroke-width="1"/>
<text x="380.18" y="337.20" text-anchor="middle" class="tk">10</text>
<line x1="420.36" y1="321.3" x2="420.36" y2="323.90" stroke="#333" stroke-width="1"/>
<text x="420.36" y="337.20" text-anchor="middle" class="tk">20</text>
<line x1="460.54" y1="321.3" x2="460.54" y2="323.90" stroke="#333" stroke-width="1"/>
<text x="460.54" y="337.20" text-anchor="middle" class="tk">30</text>
<line x1="500.72" y1="321.3" x2="500.72" y2="323.90" stroke="#333" stroke-width="1"/>
<text x="500.72" y="337.20" text-anchor="middle" class="tk">40</text>
<line x1="540.90" y1="321.3" x2="540.90" y2="323.90" stroke="#333" stroke-width="1"/>
<text x="540.90" y="337.20" text-anchor="middle" class="tk">50</text>
<line x1="328.50" y1="236.80" x2="331.1" y2="236.80" stroke="#333" stroke-width="1"/>
<text x="325.80" y="241.60" text-anchor="end" class="tk">2.5</text>
<line x1="328.50" y1="263.30" x2="331.1" y2="263.30" stroke="#333" stroke-width="1"/>
<text x="325.80" y="268.10" text-anchor="end" class="tk">0.0</text>
<line x1="328.50" y1="289.80" x2="331.1" y2="289.80" stroke="#333" stroke-width="1"/>
<text x="325.80" y="294.60" text-anchor="end" class="tk">-2.5</text>
<line x1="328.50" y1="316.30" x2="331.1" y2="316.30" stroke="#333" stroke-width="1"/>
<text x="325.80" y="321.10" text-anchor="end" class="tk">-5.0</text>
<text x="330.8" y="205.20" class="ti">CWRES vs Time</text>
<text x="436.30" y="352.80" text-anchor="middle" class="ax">Time</text>
<text transform="translate(301.2,267.05) rotate(-90)" x="0" y="0" text-anchor="middle" class="ay" style="font-size:15.5px">CWRES</text>
</svg></body></html>
